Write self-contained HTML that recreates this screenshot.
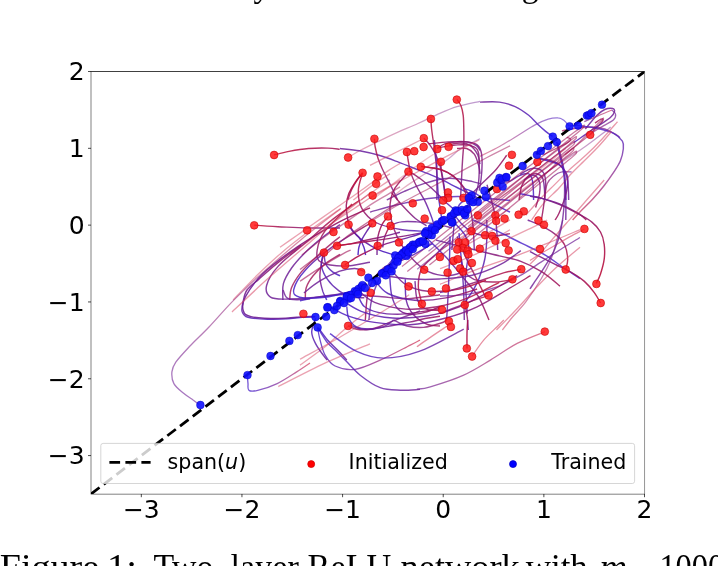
<!DOCTYPE html>
<html><head><meta charset="utf-8"><title>Figure 1</title>
<style>html,body{margin:0;padding:0;background:#fff;overflow:hidden;width:718px;height:566px}svg{display:block}</style>
</head><body>
<svg width="718" height="566" viewBox="0 0 718 566">
<rect width="718" height="566" fill="#fff"/>
<g font-family="Liberation Serif, DejaVu Serif, serif" font-size="33.5" fill="#000"><text x="253.5" y="-3">y</text><text x="521.8" y="-3">g</text></g>
<defs><clipPath id="ax"><rect x="91.00" y="71.50" width="553.50" height="422.50"/></clipPath></defs>
<g clip-path="url(#ax)">
<defs><linearGradient id="g1" gradientUnits="userSpaceOnUse" x1="348.2" y1="157.7" x2="480.0" y2="101.3"><stop offset="0" stop-color="rgb(215,70,100)"/><stop offset="1" stop-color="rgb(110,30,150)"/></linearGradient><linearGradient id="g2" gradientUnits="userSpaceOnUse" x1="340.0" y1="148.5" x2="476.5" y2="196.8"><stop offset="0" stop-color="rgb(110,30,150)"/><stop offset="1" stop-color="rgb(70,30,200)"/></linearGradient><linearGradient id="g3" gradientUnits="userSpaceOnUse" x1="374.5" y1="138.7" x2="397.5" y2="200.0"><stop offset="0" stop-color="rgb(190,15,55)"/><stop offset="1" stop-color="rgb(110,30,150)"/></linearGradient><linearGradient id="g4" gradientUnits="userSpaceOnUse" x1="457.0" y1="99.4" x2="460.5" y2="200.0"><stop offset="0" stop-color="rgb(190,15,55)"/><stop offset="1" stop-color="rgb(110,30,150)"/></linearGradient><linearGradient id="g5" gradientUnits="userSpaceOnUse" x1="430.9" y1="118.9" x2="436.9" y2="200.0"><stop offset="0" stop-color="rgb(190,15,55)"/><stop offset="1" stop-color="rgb(110,30,150)"/></linearGradient><linearGradient id="g6" gradientUnits="userSpaceOnUse" x1="423.8" y1="138.2" x2="445.3" y2="200.0"><stop offset="0" stop-color="rgb(160,15,85)"/><stop offset="1" stop-color="rgb(70,30,200)"/></linearGradient><linearGradient id="g7" gradientUnits="userSpaceOnUse" x1="436.9" y1="148.5" x2="480.0" y2="150.4"><stop offset="0" stop-color="rgb(160,15,85)"/><stop offset="1" stop-color="rgb(110,30,150)"/></linearGradient><linearGradient id="g8" gradientUnits="userSpaceOnUse" x1="449.2" y1="144.6" x2="480.0" y2="164.1"><stop offset="0" stop-color="rgb(160,15,85)"/><stop offset="1" stop-color="rgb(110,30,150)"/></linearGradient><linearGradient id="g9" gradientUnits="userSpaceOnUse" x1="457.0" y1="148.5" x2="480.0" y2="173.8"><stop offset="0" stop-color="rgb(160,15,85)"/><stop offset="1" stop-color="rgb(110,30,150)"/></linearGradient><linearGradient id="g10" gradientUnits="userSpaceOnUse" x1="420.9" y1="166.6" x2="470.6" y2="200.0"><stop offset="0" stop-color="rgb(190,15,55)"/><stop offset="1" stop-color="rgb(110,30,150)"/></linearGradient><linearGradient id="g11" gradientUnits="userSpaceOnUse" x1="362.8" y1="172.9" x2="347.8" y2="200.0"><stop offset="0" stop-color="rgb(190,15,55)"/><stop offset="1" stop-color="rgb(160,15,85)"/></linearGradient><linearGradient id="g12" gradientUnits="userSpaceOnUse" x1="388.7" y1="200.0" x2="480.0" y2="138.7"><stop offset="0" stop-color="rgb(215,70,100)"/><stop offset="1" stop-color="rgb(110,30,150)"/></linearGradient><linearGradient id="g13" gradientUnits="userSpaceOnUse" x1="440.8" y1="161.7" x2="446.3" y2="200.0"><stop offset="0" stop-color="rgb(160,15,85)"/><stop offset="1" stop-color="rgb(110,30,150)"/></linearGradient><linearGradient id="g14" gradientUnits="userSpaceOnUse" x1="480.0" y1="102.1" x2="552.5" y2="136.4"><stop offset="0" stop-color="rgb(110,30,150)"/><stop offset="1" stop-color="rgb(70,30,200)"/></linearGradient><linearGradient id="g15" gradientUnits="userSpaceOnUse" x1="480.0" y1="156.3" x2="569.1" y2="126.1"><stop offset="0" stop-color="rgb(215,70,100)"/><stop offset="1" stop-color="rgb(70,30,200)"/></linearGradient><linearGradient id="g16" gradientUnits="userSpaceOnUse" x1="509.2" y1="200.0" x2="610.6" y2="127.0"><stop offset="0" stop-color="rgb(215,70,100)"/><stop offset="1" stop-color="rgb(110,30,150)"/></linearGradient><linearGradient id="g17" gradientUnits="userSpaceOnUse" x1="590.2" y1="134.8" x2="595.0" y2="123.1"><stop offset="0" stop-color="rgb(190,15,55)"/><stop offset="1" stop-color="rgb(160,15,85)"/></linearGradient><linearGradient id="g18" gradientUnits="userSpaceOnUse" x1="585.3" y1="129.0" x2="573.6" y2="142.6"><stop offset="0" stop-color="rgb(110,30,150)"/><stop offset="1" stop-color="rgb(70,30,200)"/></linearGradient><linearGradient id="g19" gradientUnits="userSpaceOnUse" x1="561.9" y1="130.9" x2="620.0" y2="137.8"><stop offset="0" stop-color="rgb(160,15,85)"/><stop offset="1" stop-color="rgb(110,30,150)"/></linearGradient><linearGradient id="g20" gradientUnits="userSpaceOnUse" x1="501.4" y1="181.6" x2="533.6" y2="200.0"><stop offset="0" stop-color="rgb(110,30,150)"/><stop offset="1" stop-color="rgb(70,30,200)"/></linearGradient><linearGradient id="g21" gradientUnits="userSpaceOnUse" x1="519.0" y1="200.0" x2="544.7" y2="200.0"><stop offset="0" stop-color="rgb(160,15,85)"/><stop offset="1" stop-color="rgb(110,30,150)"/></linearGradient><linearGradient id="g22" gradientUnits="userSpaceOnUse" x1="557.6" y1="142.6" x2="565.8" y2="200.0"><stop offset="0" stop-color="rgb(110,30,150)"/><stop offset="1" stop-color="rgb(70,30,200)"/></linearGradient><linearGradient id="g23" gradientUnits="userSpaceOnUse" x1="544.3" y1="200.0" x2="571.6" y2="171.9"><stop offset="0" stop-color="rgb(160,15,85)"/><stop offset="1" stop-color="rgb(110,30,150)"/></linearGradient><linearGradient id="g24" gradientUnits="userSpaceOnUse" x1="254.2" y1="225.1" x2="340.0" y2="228.0"><stop offset="0" stop-color="rgb(190,15,55)"/><stop offset="1" stop-color="rgb(110,30,150)"/></linearGradient><linearGradient id="g25" gradientUnits="userSpaceOnUse" x1="324.0" y1="252.8" x2="326.7" y2="300.0"><stop offset="0" stop-color="rgb(190,15,55)"/><stop offset="1" stop-color="rgb(70,30,200)"/></linearGradient><linearGradient id="g26" gradientUnits="userSpaceOnUse" x1="324.0" y1="252.8" x2="340.0" y2="275.8"><stop offset="0" stop-color="rgb(110,30,150)"/><stop offset="1" stop-color="rgb(70,30,200)"/></linearGradient><linearGradient id="g27" gradientUnits="userSpaceOnUse" x1="341.0" y1="208.5" x2="199.2" y2="404.6"><stop offset="0" stop-color="rgb(215,70,100)"/><stop offset="1" stop-color="rgb(110,30,150)"/></linearGradient><linearGradient id="g28" gradientUnits="userSpaceOnUse" x1="301.2" y1="245.2" x2="315.3" y2="316.9"><stop offset="0" stop-color="rgb(160,15,85)"/><stop offset="1" stop-color="rgb(70,30,200)"/></linearGradient><linearGradient id="g29" gradientUnits="userSpaceOnUse" x1="247.4" y1="375.0" x2="310.0" y2="363.1"><stop offset="0" stop-color="rgb(70,30,200)"/><stop offset="1" stop-color="rgb(215,70,100)"/></linearGradient><linearGradient id="g30" gradientUnits="userSpaceOnUse" x1="317.5" y1="327.5" x2="420.0" y2="340.1"><stop offset="0" stop-color="rgb(70,30,200)"/><stop offset="1" stop-color="rgb(215,70,100)"/></linearGradient><linearGradient id="g31" gradientUnits="userSpaceOnUse" x1="317.5" y1="327.5" x2="420.0" y2="389.4"><stop offset="0" stop-color="rgb(70,30,200)"/><stop offset="1" stop-color="rgb(110,30,150)"/></linearGradient><linearGradient id="g32" gradientUnits="userSpaceOnUse" x1="348.1" y1="325.9" x2="420.0" y2="310.8"><stop offset="0" stop-color="rgb(160,15,85)"/><stop offset="1" stop-color="rgb(110,30,150)"/></linearGradient><linearGradient id="g33" gradientUnits="userSpaceOnUse" x1="346.8" y1="306.5" x2="440.0" y2="316.3"><stop offset="0" stop-color="rgb(70,30,200)"/><stop offset="1" stop-color="rgb(160,15,85)"/></linearGradient><linearGradient id="g34" gradientUnits="userSpaceOnUse" x1="358.5" y1="296.8" x2="440.0" y2="308.5"><stop offset="0" stop-color="rgb(70,30,200)"/><stop offset="1" stop-color="rgb(160,15,85)"/></linearGradient><linearGradient id="g35" gradientUnits="userSpaceOnUse" x1="389.7" y1="275.3" x2="440.0" y2="306.5"><stop offset="0" stop-color="rgb(70,30,200)"/><stop offset="1" stop-color="rgb(160,15,85)"/></linearGradient><linearGradient id="g36" gradientUnits="userSpaceOnUse" x1="405.3" y1="279.2" x2="440.0" y2="326.0"><stop offset="0" stop-color="rgb(70,30,200)"/><stop offset="1" stop-color="rgb(160,15,85)"/></linearGradient><linearGradient id="g37" gradientUnits="userSpaceOnUse" x1="415.0" y1="281.2" x2="440.0" y2="309.5"><stop offset="0" stop-color="rgb(110,30,150)"/><stop offset="1" stop-color="rgb(160,15,85)"/></linearGradient><linearGradient id="g38" gradientUnits="userSpaceOnUse" x1="323.4" y1="252.9" x2="364.3" y2="297.8"><stop offset="0" stop-color="rgb(70,30,200)"/><stop offset="1" stop-color="rgb(110,30,150)"/></linearGradient><linearGradient id="g39" gradientUnits="userSpaceOnUse" x1="315.6" y1="318.2" x2="327.3" y2="360.0"><stop offset="0" stop-color="rgb(70,30,200)"/><stop offset="1" stop-color="rgb(110,30,150)"/></linearGradient><linearGradient id="g40" gradientUnits="userSpaceOnUse" x1="318.5" y1="328.0" x2="346.8" y2="360.0"><stop offset="0" stop-color="rgb(70,30,200)"/><stop offset="1" stop-color="rgb(110,30,150)"/></linearGradient><linearGradient id="g41" gradientUnits="userSpaceOnUse" x1="300.0" y1="300.7" x2="440.0" y2="294.8"><stop offset="0" stop-color="rgb(70,30,200)"/><stop offset="1" stop-color="rgb(160,15,85)"/></linearGradient><linearGradient id="g42" gradientUnits="userSpaceOnUse" x1="391.4" y1="192.6" x2="426.5" y2="225.8"><stop offset="0" stop-color="rgb(160,15,85)"/><stop offset="1" stop-color="rgb(110,30,150)"/></linearGradient><linearGradient id="g43" gradientUnits="userSpaceOnUse" x1="407.0" y1="151.7" x2="434.3" y2="225.8"><stop offset="0" stop-color="rgb(190,15,55)"/><stop offset="1" stop-color="rgb(70,30,200)"/></linearGradient><linearGradient id="g44" gradientUnits="userSpaceOnUse" x1="428.5" y1="143.9" x2="479.2" y2="190.7"><stop offset="0" stop-color="rgb(160,15,85)"/><stop offset="1" stop-color="rgb(110,30,150)"/></linearGradient><linearGradient id="g45" gradientUnits="userSpaceOnUse" x1="438.2" y1="147.8" x2="475.3" y2="194.6"><stop offset="0" stop-color="rgb(160,15,85)"/><stop offset="1" stop-color="rgb(110,30,150)"/></linearGradient><linearGradient id="g46" gradientUnits="userSpaceOnUse" x1="434.3" y1="140.0" x2="442.1" y2="221.9"><stop offset="0" stop-color="rgb(110,30,150)"/><stop offset="1" stop-color="rgb(70,30,200)"/></linearGradient><linearGradient id="g47" gradientUnits="userSpaceOnUse" x1="370.0" y1="212.1" x2="510.0" y2="200.4"><stop offset="0" stop-color="rgb(110,30,150)"/><stop offset="1" stop-color="rgb(70,30,200)"/></linearGradient><linearGradient id="g48" gradientUnits="userSpaceOnUse" x1="451.9" y1="250.0" x2="467.5" y2="198.5"><stop offset="0" stop-color="rgb(110,30,150)"/><stop offset="1" stop-color="rgb(70,30,200)"/></linearGradient><linearGradient id="g49" gradientUnits="userSpaceOnUse" x1="421.1" y1="166.3" x2="474.3" y2="250.0"><stop offset="0" stop-color="rgb(190,15,55)"/><stop offset="1" stop-color="rgb(110,30,150)"/></linearGradient><linearGradient id="g50" gradientUnits="userSpaceOnUse" x1="409.0" y1="171.2" x2="459.7" y2="214.1"><stop offset="0" stop-color="rgb(160,15,85)"/><stop offset="1" stop-color="rgb(70,30,200)"/></linearGradient><linearGradient id="g51" gradientUnits="userSpaceOnUse" x1="494.8" y1="179.0" x2="510.0" y2="180.9"><stop offset="0" stop-color="rgb(70,30,200)"/><stop offset="1" stop-color="rgb(110,30,150)"/></linearGradient><linearGradient id="g52" gradientUnits="userSpaceOnUse" x1="453.8" y1="214.1" x2="510.0" y2="233.6"><stop offset="0" stop-color="rgb(70,30,200)"/><stop offset="1" stop-color="rgb(160,15,85)"/></linearGradient><linearGradient id="g53" gradientUnits="userSpaceOnUse" x1="569.7" y1="126.0" x2="572.6" y2="220.0"><stop offset="0" stop-color="rgb(70,30,200)"/><stop offset="1" stop-color="rgb(215,70,100)"/></linearGradient><linearGradient id="g54" gradientUnits="userSpaceOnUse" x1="584.3" y1="121.7" x2="611.6" y2="110.0"><stop offset="0" stop-color="rgb(110,30,150)"/><stop offset="1" stop-color="rgb(215,70,100)"/></linearGradient><linearGradient id="g55" gradientUnits="userSpaceOnUse" x1="611.6" y1="110.0" x2="564.8" y2="154.8"><stop offset="0" stop-color="rgb(110,30,150)"/><stop offset="1" stop-color="rgb(215,70,100)"/></linearGradient><linearGradient id="g56" gradientUnits="userSpaceOnUse" x1="556.7" y1="142.0" x2="565.8" y2="220.0"><stop offset="0" stop-color="rgb(70,30,200)"/><stop offset="1" stop-color="rgb(110,30,150)"/></linearGradient><linearGradient id="g57" gradientUnits="userSpaceOnUse" x1="520.0" y1="174.3" x2="541.4" y2="220.0"><stop offset="0" stop-color="rgb(110,30,150)"/><stop offset="1" stop-color="rgb(160,15,85)"/></linearGradient><linearGradient id="g58" gradientUnits="userSpaceOnUse" x1="523.9" y1="180.2" x2="535.6" y2="207.5"><stop offset="0" stop-color="rgb(110,30,150)"/><stop offset="1" stop-color="rgb(160,15,85)"/></linearGradient><linearGradient id="g59" gradientUnits="userSpaceOnUse" x1="539.5" y1="158.7" x2="555.1" y2="220.0"><stop offset="0" stop-color="rgb(70,30,200)"/><stop offset="1" stop-color="rgb(160,15,85)"/></linearGradient><linearGradient id="g60" gradientUnits="userSpaceOnUse" x1="520.0" y1="193.8" x2="586.3" y2="220.0"><stop offset="0" stop-color="rgb(70,30,200)"/><stop offset="1" stop-color="rgb(160,15,85)"/></linearGradient><linearGradient id="g61" gradientUnits="userSpaceOnUse" x1="565.8" y1="269.5" x2="527.7" y2="220.0"><stop offset="0" stop-color="rgb(190,15,55)"/><stop offset="1" stop-color="rgb(110,30,150)"/></linearGradient><linearGradient id="g62" gradientUnits="userSpaceOnUse" x1="562.8" y1="220.0" x2="502.4" y2="330.0"><stop offset="0" stop-color="rgb(110,30,150)"/><stop offset="1" stop-color="rgb(215,70,100)"/></linearGradient><linearGradient id="g63" gradientUnits="userSpaceOnUse" x1="520.9" y1="269.3" x2="440.0" y2="292.5"><stop offset="0" stop-color="rgb(190,15,55)"/><stop offset="1" stop-color="rgb(110,30,150)"/></linearGradient><linearGradient id="g64" gradientUnits="userSpaceOnUse" x1="512.1" y1="279.5" x2="461.4" y2="259.0"><stop offset="0" stop-color="rgb(190,15,55)"/><stop offset="1" stop-color="rgb(110,30,150)"/></linearGradient><linearGradient id="g65" gradientUnits="userSpaceOnUse" x1="488.7" y1="295.6" x2="440.0" y2="313.6"><stop offset="0" stop-color="rgb(190,15,55)"/><stop offset="1" stop-color="rgb(110,30,150)"/></linearGradient><linearGradient id="g66" gradientUnits="userSpaceOnUse" x1="465.0" y1="304.8" x2="468.3" y2="330.0"><stop offset="0" stop-color="rgb(190,15,55)"/><stop offset="1" stop-color="rgb(110,30,150)"/></linearGradient><linearGradient id="g67" gradientUnits="userSpaceOnUse" x1="486.8" y1="220.0" x2="465.3" y2="301.9"><stop offset="0" stop-color="rgb(110,30,150)"/><stop offset="1" stop-color="rgb(70,30,200)"/></linearGradient><linearGradient id="g68" gradientUnits="userSpaceOnUse" x1="455.6" y1="223.9" x2="467.3" y2="313.6"><stop offset="0" stop-color="rgb(70,30,200)"/><stop offset="1" stop-color="rgb(110,30,150)"/></linearGradient><linearGradient id="g69" gradientUnits="userSpaceOnUse" x1="274.0" y1="154.9" x2="339.7" y2="149.3"><stop offset="0" stop-color="rgb(190,15,55)"/><stop offset="1" stop-color="rgb(160,15,85)"/></linearGradient><linearGradient id="g70" gradientUnits="userSpaceOnUse" x1="416.9" y1="389.2" x2="544.9" y2="331.7"><stop offset="0" stop-color="rgb(110,30,150)"/><stop offset="1" stop-color="rgb(215,70,100)"/></linearGradient><linearGradient id="g71" gradientUnits="userSpaceOnUse" x1="467.0" y1="348.4" x2="467.7" y2="320.0"><stop offset="0" stop-color="rgb(190,15,55)"/><stop offset="1" stop-color="rgb(160,15,85)"/></linearGradient><linearGradient id="g72" gradientUnits="userSpaceOnUse" x1="393.5" y1="320.0" x2="447.0" y2="320.0"><stop offset="0" stop-color="rgb(110,30,150)"/><stop offset="1" stop-color="rgb(160,15,85)"/></linearGradient><linearGradient id="g73" gradientUnits="userSpaceOnUse" x1="596.3" y1="283.4" x2="530.0" y2="196.1"><stop offset="0" stop-color="rgb(190,15,55)"/><stop offset="1" stop-color="rgb(110,30,150)"/></linearGradient><linearGradient id="g74" gradientUnits="userSpaceOnUse" x1="600.5" y1="303.0" x2="530.0" y2="251.7"><stop offset="0" stop-color="rgb(190,15,55)"/><stop offset="1" stop-color="rgb(110,30,150)"/></linearGradient><linearGradient id="g75" gradientUnits="userSpaceOnUse" x1="362.6" y1="172.8" x2="394.1" y2="255.0"><stop offset="0" stop-color="rgb(190,15,55)"/><stop offset="1" stop-color="rgb(70,30,200)"/></linearGradient><linearGradient id="g76" gradientUnits="userSpaceOnUse" x1="348.5" y1="224.3" x2="365.6" y2="255.0"><stop offset="0" stop-color="rgb(110,30,150)"/><stop offset="1" stop-color="rgb(70,30,200)"/></linearGradient><linearGradient id="g77" gradientUnits="userSpaceOnUse" x1="372.3" y1="223.4" x2="358.0" y2="255.0"><stop offset="0" stop-color="rgb(110,30,150)"/><stop offset="1" stop-color="rgb(70,30,200)"/></linearGradient><linearGradient id="g78" gradientUnits="userSpaceOnUse" x1="387.9" y1="216.4" x2="377.0" y2="255.0"><stop offset="0" stop-color="rgb(190,15,55)"/><stop offset="1" stop-color="rgb(110,30,150)"/></linearGradient><linearGradient id="g79" gradientUnits="userSpaceOnUse" x1="390.6" y1="225.8" x2="382.7" y2="247.3"><stop offset="0" stop-color="rgb(190,15,55)"/><stop offset="1" stop-color="rgb(110,30,150)"/></linearGradient><linearGradient id="g80" gradientUnits="userSpaceOnUse" x1="337.1" y1="245.8" x2="400.0" y2="232.2"><stop offset="0" stop-color="rgb(190,15,55)"/><stop offset="1" stop-color="rgb(110,30,150)"/></linearGradient><linearGradient id="g81" gradientUnits="userSpaceOnUse" x1="428.5" y1="251.2" x2="468.0" y2="226.8"><stop offset="0" stop-color="rgb(110,30,150)"/><stop offset="1" stop-color="rgb(160,15,85)"/></linearGradient><linearGradient id="g82" gradientUnits="userSpaceOnUse" x1="417.2" y1="269.2" x2="465.5" y2="238.7"><stop offset="0" stop-color="rgb(110,30,150)"/><stop offset="1" stop-color="rgb(160,15,85)"/></linearGradient><linearGradient id="g83" gradientUnits="userSpaceOnUse" x1="370.0" y1="207.8" x2="315.2" y2="316.6"><stop offset="0" stop-color="rgb(160,15,85)"/><stop offset="1" stop-color="rgb(110,30,150)"/></linearGradient><linearGradient id="g84" gradientUnits="userSpaceOnUse" x1="359.9" y1="200.0" x2="359.9" y2="289.4"><stop offset="0" stop-color="rgb(190,15,55)"/><stop offset="1" stop-color="rgb(110,30,150)"/></linearGradient><linearGradient id="g85" gradientUnits="userSpaceOnUse" x1="370.0" y1="223.3" x2="352.1" y2="291.3"><stop offset="0" stop-color="rgb(160,15,85)"/><stop offset="1" stop-color="rgb(70,30,200)"/></linearGradient><linearGradient id="g86" gradientUnits="userSpaceOnUse" x1="352.1" y1="203.9" x2="370.0" y2="262.2"><stop offset="0" stop-color="rgb(190,15,55)"/><stop offset="1" stop-color="rgb(110,30,150)"/></linearGradient><linearGradient id="g87" gradientUnits="userSpaceOnUse" x1="337.1" y1="245.4" x2="428.9" y2="231.3"><stop offset="0" stop-color="rgb(190,15,55)"/><stop offset="1" stop-color="rgb(110,30,150)"/></linearGradient><linearGradient id="g88" gradientUnits="userSpaceOnUse" x1="344.8" y1="264.9" x2="432.5" y2="229.5"><stop offset="0" stop-color="rgb(190,15,55)"/><stop offset="1" stop-color="rgb(70,30,200)"/></linearGradient><linearGradient id="g89" gradientUnits="userSpaceOnUse" x1="365.3" y1="320.0" x2="432.5" y2="243.7"><stop offset="0" stop-color="rgb(160,15,85)"/><stop offset="1" stop-color="rgb(70,30,200)"/></linearGradient><linearGradient id="g90" gradientUnits="userSpaceOnUse" x1="446.6" y1="320.0" x2="450.1" y2="236.6"><stop offset="0" stop-color="rgb(110,30,150)"/><stop offset="1" stop-color="rgb(70,30,200)"/></linearGradient><linearGradient id="g91" gradientUnits="userSpaceOnUse" x1="464.3" y1="320.0" x2="459.0" y2="233.1"><stop offset="0" stop-color="rgb(110,30,150)"/><stop offset="1" stop-color="rgb(70,30,200)"/></linearGradient><linearGradient id="g92" gradientUnits="userSpaceOnUse" x1="421.9" y1="303.7" x2="450.1" y2="240.1"><stop offset="0" stop-color="rgb(190,15,55)"/><stop offset="1" stop-color="rgb(110,30,150)"/></linearGradient><linearGradient id="g93" gradientUnits="userSpaceOnUse" x1="362.5" y1="173.0" x2="425.4" y2="231.3"><stop offset="0" stop-color="rgb(190,15,55)"/><stop offset="1" stop-color="rgb(70,30,200)"/></linearGradient><linearGradient id="g94" gradientUnits="userSpaceOnUse" x1="407.7" y1="173.0" x2="471.3" y2="268.4"><stop offset="0" stop-color="rgb(160,15,85)"/><stop offset="1" stop-color="rgb(110,30,150)"/></linearGradient><linearGradient id="g95" gradientUnits="userSpaceOnUse" x1="506.7" y1="155.3" x2="471.3" y2="194.2"><stop offset="0" stop-color="rgb(160,15,85)"/><stop offset="1" stop-color="rgb(110,30,150)"/></linearGradient><linearGradient id="g96" gradientUnits="userSpaceOnUse" x1="485.5" y1="296.7" x2="457.2" y2="236.6"><stop offset="0" stop-color="rgb(190,15,55)"/><stop offset="1" stop-color="rgb(110,30,150)"/></linearGradient><linearGradient id="g97" gradientUnits="userSpaceOnUse" x1="436.0" y1="240.1" x2="560.0" y2="286.1"><stop offset="0" stop-color="rgb(110,30,150)"/><stop offset="1" stop-color="rgb(160,15,85)"/></linearGradient><linearGradient id="g98" gradientUnits="userSpaceOnUse" x1="425.4" y1="236.6" x2="489.0" y2="320.0"><stop offset="0" stop-color="rgb(70,30,200)"/><stop offset="1" stop-color="rgb(160,15,85)"/></linearGradient><linearGradient id="g99" gradientUnits="userSpaceOnUse" x1="400.7" y1="250.7" x2="368.9" y2="320.0"><stop offset="0" stop-color="rgb(70,30,200)"/><stop offset="1" stop-color="rgb(110,30,150)"/></linearGradient><linearGradient id="g100" gradientUnits="userSpaceOnUse" x1="330.0" y1="306.8" x2="530.5" y2="275.7"><stop offset="0" stop-color="rgb(70,30,200)"/><stop offset="1" stop-color="rgb(160,15,85)"/></linearGradient><linearGradient id="g101" gradientUnits="userSpaceOnUse" x1="338.9" y1="297.9" x2="517.2" y2="275.7"><stop offset="0" stop-color="rgb(70,30,200)"/><stop offset="1" stop-color="rgb(160,15,85)"/></linearGradient><linearGradient id="g102" gradientUnits="userSpaceOnUse" x1="356.7" y1="289.0" x2="499.3" y2="282.3"><stop offset="0" stop-color="rgb(110,30,150)"/><stop offset="1" stop-color="rgb(190,15,55)"/></linearGradient><linearGradient id="g103" gradientUnits="userSpaceOnUse" x1="374.6" y1="280.1" x2="477.1" y2="289.0"><stop offset="0" stop-color="rgb(70,30,200)"/><stop offset="1" stop-color="rgb(160,15,85)"/></linearGradient><linearGradient id="g104" gradientUnits="userSpaceOnUse" x1="392.4" y1="271.2" x2="486.0" y2="280.1"><stop offset="0" stop-color="rgb(110,30,150)"/><stop offset="1" stop-color="rgb(190,15,55)"/></linearGradient><linearGradient id="g105" gradientUnits="userSpaceOnUse" x1="330.0" y1="333.6" x2="463.7" y2="329.1"><stop offset="0" stop-color="rgb(70,30,200)"/><stop offset="1" stop-color="rgb(110,30,150)"/></linearGradient></defs>
<path d="M348.2 157.7 C350.1 156.5 354.4 153.6 359.5 150.8 C364.6 148.1 372.5 144.2 379.0 141.1 C385.5 137.9 392.0 134.8 398.5 131.9 C405.0 129.0 411.5 126.5 418.0 123.5 C424.5 120.6 431.0 117.2 437.5 114.4 C444.0 111.5 449.9 108.7 457.0 106.6 C464.1 104.4 476.2 102.2 480.0 101.3" fill="none" stroke="url(#g1)" stroke-opacity="0.45" stroke-width="1.30"/>
<path d="M340.0 148.5 C343.2 148.9 353.0 149.7 359.5 150.8 C366.0 152.0 372.5 153.4 379.0 155.3 C385.5 157.2 392.0 159.7 398.5 162.1 C405.0 164.6 411.5 167.3 418.0 169.9 C424.5 172.5 431.0 174.8 437.5 177.7 C444.0 180.7 451.8 184.9 457.0 187.5 C462.2 190.1 465.4 191.8 468.7 193.3 C471.9 194.9 475.2 196.3 476.5 196.8" fill="none" stroke="url(#g2)" stroke-opacity="0.85" stroke-width="1.43"/>
<path d="M374.5 138.7 C374.6 140.0 374.5 143.3 375.1 146.5 C375.7 149.8 376.9 154.7 378.0 158.2 C379.2 161.8 380.3 164.4 381.9 168.0 C383.5 171.6 385.8 175.8 387.8 179.7 C389.7 183.6 392.0 188.0 393.6 191.4 C395.2 194.8 396.9 198.5 397.5 200.0" fill="none" stroke="url(#g3)" stroke-opacity="0.85" stroke-width="1.43"/>
<path d="M457.0 99.4 C457.6 100.4 459.8 102.9 460.9 105.6 C461.9 108.3 462.7 111.4 463.2 115.3 C463.7 119.2 463.7 124.4 463.8 129.0 C463.9 133.5 464.0 138.1 463.8 142.6 C463.6 147.2 463.2 151.4 462.8 156.3 C462.5 161.2 462.2 164.6 461.9 171.9 C461.5 179.2 460.7 195.3 460.5 200.0" fill="none" stroke="url(#g4)" stroke-opacity="0.85" stroke-width="1.43"/>
<path d="M430.9 118.9 C431.0 120.5 431.2 125.4 431.6 129.0 C432.0 132.6 432.6 136.5 433.2 140.7 C433.8 144.9 434.6 149.8 435.1 154.3 C435.7 158.9 436.2 163.1 436.5 168.0 C436.8 172.9 436.8 178.3 436.9 183.6 C437.0 188.9 436.9 197.2 436.9 200.0" fill="none" stroke="url(#g5)" stroke-opacity="0.85" stroke-width="1.43"/>
<path d="M423.8 138.2 C424.8 139.2 427.7 141.9 429.7 144.6 C431.6 147.3 433.9 151.1 435.5 154.3 C437.2 157.6 438.3 160.5 439.4 164.1 C440.6 167.7 441.5 171.9 442.4 175.8 C443.2 179.7 443.8 183.5 444.3 187.5 C444.8 191.5 445.1 197.9 445.3 200.0" fill="none" stroke="url(#g6)" stroke-opacity="0.85" stroke-width="1.43"/>
<path d="M436.9 148.5 C438.3 147.7 441.9 144.8 445.3 143.6 C448.6 142.5 453.1 141.9 457.0 141.7 C460.9 141.4 465.4 141.6 468.7 142.3 C471.9 142.9 474.6 144.2 476.5 145.6 C478.4 146.9 479.4 149.6 480.0 150.4" fill="none" stroke="url(#g7)" stroke-opacity="0.85" stroke-width="1.43"/>
<path d="M449.2 144.6 C451.1 144.3 457.3 142.9 460.9 143.0 C464.5 143.2 467.9 143.7 470.6 145.6 C473.4 147.5 475.9 151.3 477.5 154.3 C479.0 157.4 479.6 162.5 480.0 164.1" fill="none" stroke="url(#g8)" stroke-opacity="0.85" stroke-width="1.43"/>
<path d="M457.0 148.5 C458.6 148.5 463.8 147.5 466.7 148.5 C469.7 149.5 472.5 151.4 474.5 154.3 C476.5 157.3 477.9 162.8 478.8 166.0 C479.7 169.3 479.8 172.5 480.0 173.8" fill="none" stroke="url(#g9)" stroke-opacity="0.85" stroke-width="1.43"/>
<path d="M420.9 166.6 C422.4 166.8 426.3 167.0 429.7 167.6 C433.1 168.2 437.5 168.6 441.4 169.9 C445.3 171.3 449.8 173.5 453.1 175.8 C456.3 178.1 458.6 181.0 460.9 183.6 C463.2 186.2 465.1 188.7 466.7 191.4 C468.4 194.1 470.0 198.5 470.6 200.0" fill="none" stroke="url(#g10)" stroke-opacity="0.85" stroke-width="1.43"/>
<path d="M362.8 172.9 C361.9 174.0 359.4 176.9 357.5 179.7 C355.7 182.4 353.3 186.1 351.7 189.4 C350.1 192.8 348.4 198.2 347.8 200.0" fill="none" stroke="url(#g11)" stroke-opacity="0.85" stroke-width="1.43"/>
<path d="M372.2 200.0 C375.3 197.6 384.7 190.2 390.7 185.5 C396.7 180.9 403.0 175.8 408.2 171.9 C413.4 168.0 417.7 165.1 421.9 162.1 C426.1 159.2 431.6 155.6 433.6 154.3" fill="none" stroke="rgb(215,70,100)" stroke-opacity="0.35" stroke-width="1.30"/>
<path d="M388.7 200.0 C391.3 197.9 398.8 191.5 404.3 187.5 C409.9 183.5 416.4 179.4 421.9 175.8 C427.4 172.2 432.9 169.0 437.5 166.0 C442.0 163.1 445.3 161.2 449.2 158.2 C453.1 155.3 455.7 151.7 460.9 148.5 C466.0 145.2 476.8 140.4 480.0 138.7" fill="none" stroke="url(#g12)" stroke-opacity="0.40" stroke-width="1.30"/>
<path d="M440.8 161.7 C440.9 163.4 441.0 168.2 441.4 171.9 C441.8 175.5 442.7 179.7 443.3 183.6 C444.0 187.5 444.8 192.6 445.3 195.3 C445.8 198.0 446.1 199.2 446.3 200.0" fill="none" stroke="url(#g13)" stroke-opacity="0.85" stroke-width="1.43"/>
<path d="M386.8 200.0 C389.7 198.5 398.2 194.1 404.3 191.4 C410.5 188.7 417.3 185.7 423.8 183.6 C430.3 181.5 437.8 179.5 443.3 178.7 C448.9 177.9 452.1 178.2 457.0 178.7 C461.9 179.2 468.7 180.8 472.6 181.6 C476.4 182.4 478.8 183.3 480.0 183.6" fill="none" stroke="rgb(110,30,150)" stroke-opacity="0.80" stroke-width="1.43"/>
<path d="M480.0 102.1 C483.2 102.1 493.6 101.3 499.5 102.1 C505.3 102.8 510.2 104.4 515.1 106.6 C520.0 108.8 524.8 112.3 528.7 115.3 C532.6 118.4 535.6 122.3 538.5 125.1 C541.4 127.9 544.0 130.0 546.3 131.9 C548.6 133.8 551.5 135.7 552.5 136.4" fill="none" stroke="url(#g14)" stroke-opacity="0.85" stroke-width="1.43"/>
<path d="M480.0 156.3 C483.2 154.7 493.0 150.1 499.5 146.5 C506.0 143.0 513.1 138.4 519.0 134.8 C524.8 131.3 529.7 127.7 534.6 125.1 C539.5 122.5 544.3 120.4 548.2 119.2 C552.1 118.0 555.4 117.7 558.0 117.9 C560.6 118.0 562.0 118.9 563.8 120.2 C565.7 121.6 568.2 125.1 569.1 126.1" fill="none" stroke="url(#g15)" stroke-opacity="0.60" stroke-width="1.30"/>
<path d="M509.2 200.0 C512.8 197.2 523.9 188.6 530.7 183.6 C537.5 178.6 544.0 174.2 550.2 169.9 C556.4 165.7 561.9 162.1 567.7 158.2 C573.6 154.3 579.8 150.4 585.3 146.5 C590.8 142.6 596.7 138.1 600.9 134.8 C605.1 131.6 609.0 128.3 610.6 127.0" fill="none" stroke="url(#g16)" stroke-opacity="0.45" stroke-width="1.30"/>
<path d="M590.2 134.8 C591.0 133.9 593.4 130.8 595.0 129.0 C596.7 127.2 598.5 125.7 599.9 124.1 C601.3 122.6 603.1 120.4 603.2 119.6 C603.4 118.8 602.2 118.7 600.9 119.2 C599.5 119.8 596.0 122.5 595.0 123.1" fill="none" stroke="url(#g17)" stroke-opacity="0.80" stroke-width="1.43"/>
<path d="M585.3 129.0 C587.2 126.7 593.7 118.6 597.0 115.3 C600.2 112.1 602.2 110.6 604.8 109.5 C607.4 108.4 611.0 108.2 612.6 108.5 C614.2 108.8 614.9 110.0 614.5 111.4 C614.2 112.9 612.9 115.2 610.6 117.3 C608.4 119.4 604.5 121.7 600.9 124.1 C597.3 126.6 593.7 128.8 589.2 131.9 C584.6 135.0 576.2 140.9 573.6 142.6" fill="none" stroke="url(#g18)" stroke-opacity="0.85" stroke-width="1.43"/>
<path d="M561.9 130.9 C564.5 130.5 572.3 128.7 577.5 128.0 C582.7 127.4 588.5 126.9 593.1 127.0 C597.6 127.2 600.9 127.7 604.8 129.0 C608.7 130.3 613.9 133.4 616.5 134.8 C619.0 136.3 619.4 137.3 620.0 137.8" fill="none" stroke="url(#g19)" stroke-opacity="0.70" stroke-width="1.43"/>
<path d="M501.4 181.6 C502.7 181.6 506.3 182.6 509.2 181.6 C512.2 180.7 515.7 177.1 519.0 175.8 C522.2 174.5 526.5 172.9 528.7 173.8 C531.0 174.8 531.8 177.3 532.6 181.6 C533.5 186.0 533.5 196.9 533.6 200.0" fill="none" stroke="url(#g20)" stroke-opacity="0.85" stroke-width="1.43"/>
<path d="M519.0 200.0 C519.5 197.6 520.3 189.6 521.9 185.5 C523.5 181.5 526.3 177.7 528.7 175.8 C531.2 173.8 534.3 173.5 536.5 173.8 C538.8 174.2 541.1 175.5 542.4 177.7 C543.7 180.0 544.0 183.8 544.3 187.5 C544.7 191.2 544.7 197.9 544.7 200.0" fill="none" stroke="url(#g21)" stroke-opacity="0.85" stroke-width="1.43"/>
<path d="M557.6 142.6 C558.0 144.3 559.1 148.8 559.9 152.4 C560.8 156.0 562.0 160.2 562.9 164.1 C563.7 168.0 564.3 171.9 564.8 175.8 C565.3 179.7 565.6 183.5 565.8 187.5 C565.9 191.5 565.8 197.9 565.8 200.0" fill="none" stroke="url(#g22)" stroke-opacity="0.85" stroke-width="1.43"/>
<path d="M538.5 158.2 C540.4 158.6 546.6 159.1 550.2 160.2 C553.8 161.3 557.3 162.8 559.9 165.1 C562.5 167.3 564.4 170.4 565.8 173.8 C567.2 177.2 567.6 181.2 568.1 185.5 C568.6 189.9 568.6 197.6 568.7 200.0" fill="none" stroke="rgb(110,30,150)" stroke-opacity="0.85" stroke-width="1.43"/>
<path d="M544.3 200.0 C544.8 197.2 545.6 187.6 547.3 183.6 C548.9 179.6 551.7 177.7 554.1 175.8 C556.5 173.8 559.0 172.5 561.9 171.9 C564.8 171.2 570.0 171.9 571.6 171.9" fill="none" stroke="url(#g23)" stroke-opacity="0.70" stroke-width="1.30"/>
<path d="M495.6 200.0 C498.8 197.9 508.3 192.2 515.1 187.5 C521.9 182.8 530.0 176.8 536.5 171.9 C543.0 167.0 549.2 162.1 554.1 158.2 C559.0 154.3 563.8 150.1 565.8 148.5" fill="none" stroke="rgb(215,70,100)" stroke-opacity="0.40" stroke-width="1.30"/>
<path d="M254.2 225.1 C258.2 225.4 269.1 226.2 278.0 226.7 C286.8 227.1 296.9 227.8 307.2 228.0 C317.6 228.2 334.5 228.0 340.0 228.0" fill="none" stroke="url(#g24)" stroke-opacity="0.85" stroke-width="1.43"/>
<path d="M233.1 300.0 C237.0 295.9 248.4 283.7 256.5 275.8 C264.7 267.9 273.1 259.9 281.9 252.4 C290.7 244.9 300.1 237.8 309.2 230.9 C318.3 224.1 331.3 215.1 336.5 211.4 C341.6 207.8 339.4 209.5 340.0 209.1" fill="none" stroke="rgb(215,70,100)" stroke-opacity="0.50" stroke-width="1.30"/>
<path d="M282.9 300.0 C283.0 297.2 282.0 288.9 283.4 283.6 C284.9 278.3 288.0 273.2 291.6 268.0 C295.3 262.8 300.4 257.3 305.3 252.4 C310.2 247.5 315.7 243.0 320.9 238.7 C326.1 234.5 333.3 229.4 336.5 227.0 C339.7 224.7 339.4 225.1 340.0 224.7" fill="none" stroke="rgb(110,30,150)" stroke-opacity="0.85" stroke-width="1.43"/>
<path d="M289.7 300.0 C290.0 297.9 289.7 292.2 291.6 287.5 C293.6 282.8 297.2 277.1 301.4 271.9 C305.6 266.7 311.8 261.2 317.0 256.3 C322.2 251.4 328.7 245.9 332.6 242.6 C336.4 239.4 338.8 237.8 340.0 236.8" fill="none" stroke="rgb(160,15,85)" stroke-opacity="0.80" stroke-width="1.43"/>
<path d="M305.3 300.0 C305.4 297.9 305.0 291.5 306.3 287.5 C307.6 283.5 310.0 279.7 313.1 275.8 C316.2 271.9 320.3 267.7 324.8 264.1 C329.3 260.5 337.5 256.0 340.0 254.3" fill="none" stroke="rgb(160,15,85)" stroke-opacity="0.80" stroke-width="1.43"/>
<path d="M324.0 252.8 C323.5 254.7 322.0 259.9 321.3 264.1 C320.6 268.2 319.6 273.2 319.9 277.7 C320.2 282.3 321.7 287.7 322.8 291.4 C324.0 295.1 326.1 298.5 326.7 300.0" fill="none" stroke="url(#g25)" stroke-opacity="0.85" stroke-width="1.43"/>
<path d="M324.0 252.8 C324.3 254.7 324.3 260.9 325.8 264.1 C327.2 267.3 330.2 269.9 332.6 271.9 C335.0 273.8 338.8 275.1 340.0 275.8" fill="none" stroke="url(#g26)" stroke-opacity="0.85" stroke-width="1.43"/>
<path d="M341.0 208.5 C334.3 213.7 314.7 228.5 301.0 239.7 C287.3 250.9 268.4 267.6 258.9 276.0 C249.4 284.3 249.2 285.1 244.1 290.0 C239.0 294.9 234.3 299.4 228.5 305.6 C222.6 311.8 215.5 320.2 209.0 327.0 C202.5 333.9 195.0 340.7 189.5 346.5 C184.0 352.4 178.8 357.9 175.8 362.1 C172.9 366.4 172.3 368.3 171.9 371.9 C171.6 375.5 171.9 380.0 173.9 383.6 C175.8 387.2 180.4 390.6 183.6 393.3 C186.9 396.1 190.8 398.3 193.4 400.2 C196.0 402.0 198.3 403.9 199.2 404.6" fill="none" stroke="url(#g27)" stroke-opacity="0.60" stroke-width="1.30"/>
<path d="M301.2 245.2 C297.4 248.0 285.6 256.5 278.6 262.1 C271.5 267.8 264.2 274.4 258.9 279.1 C253.6 283.7 249.6 286.2 247.0 290.0 C244.4 293.8 243.9 298.1 243.1 301.7 C242.3 305.3 241.3 308.8 242.1 311.4 C243.0 314.0 243.8 316.0 248.0 317.3 C252.2 318.6 261.0 319.0 267.5 319.2 C274.0 319.5 281.1 319.2 287.0 318.9 C292.8 318.5 297.9 317.6 302.6 317.3 C307.3 317.0 313.1 317.0 315.3 316.9" fill="none" stroke="url(#g28)" stroke-opacity="0.85" stroke-width="1.43"/>
<path d="M247.4 375.0 C247.5 376.4 247.7 381.0 248.0 383.6 C248.2 386.2 247.3 389.3 249.0 390.4 C250.6 391.5 253.0 391.5 257.7 390.4 C262.4 389.3 270.7 386.7 277.2 383.6 C283.7 380.5 291.3 375.3 296.7 371.9 C302.2 368.5 307.8 364.6 310.0 363.1" fill="none" stroke="url(#g29)" stroke-opacity="0.75" stroke-width="1.30"/>
<path d="M283.1 290.0 C283.7 291.3 284.7 296.2 287.0 297.8 C289.3 299.4 292.9 299.6 296.7 299.7 C300.6 299.9 307.8 298.9 310.0 298.8" fill="none" stroke="rgb(110,30,150)" stroke-opacity="0.80" stroke-width="1.43"/>
<path d="M317.5 327.5 C318.0 329.6 318.8 335.5 320.1 340.1 C321.3 344.7 322.6 350.8 325.1 355.1 C327.6 359.4 330.1 363.6 335.1 366.0 C340.1 368.4 347.6 370.3 355.2 369.3 C362.7 368.4 371.0 364.2 380.2 360.1 C389.4 356.1 403.7 348.4 410.3 345.1 C416.9 341.8 418.4 340.9 420.0 340.1" fill="none" stroke="url(#g30)" stroke-opacity="0.80" stroke-width="1.30"/>
<path d="M317.5 327.5 C319.1 329.9 323.8 338.0 326.7 341.8 C329.7 345.5 331.8 346.8 335.1 350.1 C338.4 353.5 342.6 357.6 346.8 361.8 C351.0 366.0 354.6 370.9 360.2 375.2 C365.7 379.5 373.5 385.2 380.2 387.7 C386.9 390.2 393.7 389.9 400.3 390.2 C406.9 390.5 416.7 389.5 420.0 389.4" fill="none" stroke="url(#g31)" stroke-opacity="0.80" stroke-width="1.43"/>
<path d="M300.0 365.2 C304.2 362.1 318.1 352.3 325.1 346.8 C332.0 341.2 335.9 336.7 341.8 331.7 C347.6 326.7 355.4 320.3 360.2 316.7 C364.9 313.1 368.5 311.1 370.2 310.0" fill="none" stroke="rgb(215,70,100)" stroke-opacity="0.50" stroke-width="1.30"/>
<path d="M348.1 325.9 C349.6 326.4 353.7 328.6 356.8 329.2 C359.9 329.9 363.5 330.0 366.9 329.7 C370.2 329.4 373.5 328.6 376.9 327.5 C380.2 326.5 383.0 324.9 386.9 323.4 C390.8 321.8 395.8 320.0 400.3 318.4 C404.7 316.7 410.4 314.6 413.7 313.3 C416.9 312.1 418.9 311.3 420.0 310.8" fill="none" stroke="url(#g32)" stroke-opacity="0.80" stroke-width="1.43"/>
<path d="M346.8 306.5 C347.1 308.5 347.1 314.8 348.7 318.2 C350.4 321.7 353.0 325.2 356.5 327.0 C360.1 328.8 364.7 329.1 370.2 329.0 C375.7 328.8 383.2 327.2 389.7 326.0 C396.2 324.9 403.0 323.4 409.2 322.1 C415.4 320.8 421.6 319.2 426.7 318.2 C431.9 317.3 437.8 316.6 440.0 316.3" fill="none" stroke="url(#g33)" stroke-opacity="0.85" stroke-width="1.43"/>
<path d="M358.5 296.8 C359.5 298.4 361.1 303.9 364.3 306.5 C367.6 309.1 372.5 311.1 378.0 312.4 C383.5 313.7 391.0 314.3 397.5 314.3 C404.0 314.3 409.9 313.4 417.0 312.4 C424.1 311.4 436.2 309.1 440.0 308.5" fill="none" stroke="url(#g34)" stroke-opacity="0.85" stroke-width="1.43"/>
<path d="M389.7 275.3 C390.0 278.6 390.3 289.3 391.6 294.8 C392.9 300.4 394.6 305.2 397.5 308.5 C400.4 311.7 404.6 313.7 409.2 314.3 C413.7 315.0 419.6 313.7 424.8 312.4 C429.9 311.1 437.5 307.5 440.0 306.5" fill="none" stroke="url(#g35)" stroke-opacity="0.85" stroke-width="1.43"/>
<path d="M405.3 279.2 C405.4 282.8 405.0 294.8 406.3 300.7 C407.6 306.5 409.7 310.4 413.1 314.3 C416.5 318.2 422.2 322.1 426.7 324.1 C431.2 326.0 437.8 325.7 440.0 326.0" fill="none" stroke="url(#g36)" stroke-opacity="0.85" stroke-width="1.43"/>
<path d="M415.0 281.2 C415.4 284.1 415.4 294.2 417.0 298.7 C418.6 303.3 421.5 306.5 424.8 308.5 C428.0 310.4 433.9 310.3 436.5 310.4 C439.0 310.6 439.4 309.6 440.0 309.5" fill="none" stroke="url(#g37)" stroke-opacity="0.85" stroke-width="1.43"/>
<path d="M323.4 252.9 C323.1 255.0 320.8 261.2 321.4 265.6 C322.1 270.0 324.4 275.0 327.3 279.2 C330.2 283.5 335.1 288.0 339.0 290.9 C342.9 293.9 346.5 295.7 350.7 296.8 C354.9 297.9 362.1 297.6 364.3 297.8" fill="none" stroke="url(#g38)" stroke-opacity="0.85" stroke-width="1.43"/>
<path d="M303.9 292.9 C306.5 290.9 313.6 284.8 319.5 281.2 C325.3 277.6 333.1 273.6 339.0 271.4 C344.8 269.3 350.4 268.5 354.6 268.5 C358.8 268.5 362.7 271.0 364.3 271.4" fill="none" stroke="rgb(110,30,150)" stroke-opacity="0.85" stroke-width="1.43"/>
<path d="M315.6 318.2 C314.9 320.5 311.7 327.7 311.7 331.9 C311.7 336.1 313.6 339.7 315.6 343.6 C317.5 347.5 321.4 352.6 323.4 355.3 C325.3 358.0 326.6 359.2 327.3 360.0" fill="none" stroke="url(#g39)" stroke-opacity="0.85" stroke-width="1.43"/>
<path d="M318.5 328.0 C320.0 329.9 323.9 335.8 327.3 339.7 C330.7 343.6 335.7 348.0 339.0 351.4 C342.2 354.8 345.5 358.5 346.8 360.0" fill="none" stroke="url(#g40)" stroke-opacity="0.85" stroke-width="1.43"/>
<path d="M300.0 300.7 C303.2 300.0 313.0 297.8 319.5 296.8 C326.0 295.8 332.5 295.2 339.0 294.8 C345.5 294.5 351.3 294.5 358.5 294.8 C365.6 295.2 374.1 296.1 381.9 296.8 C389.7 297.4 398.1 298.7 405.3 298.7 C412.4 298.7 419.0 297.4 424.8 296.8 C430.6 296.1 437.5 295.2 440.0 294.8" fill="none" stroke="url(#g41)" stroke-opacity="0.80" stroke-width="1.43"/>
<path d="M300.0 359.2 C306.5 355.6 326.0 345.2 339.0 337.7 C352.0 330.3 366.3 321.5 378.0 314.3 C389.7 307.2 404.0 298.1 409.2 294.8" fill="none" stroke="rgb(215,70,100)" stroke-opacity="0.50" stroke-width="1.30"/>
<path d="M300.0 269.5 C302.6 267.5 311.0 261.0 315.6 257.8 C320.1 254.5 325.3 251.3 327.3 250.0" fill="none" stroke="rgb(160,15,85)" stroke-opacity="0.60" stroke-width="1.30"/>
<path d="M300.0 281.2 C303.9 278.6 316.2 270.1 323.4 265.6 C330.5 261.0 338.3 256.5 342.9 253.9 C347.4 251.3 349.4 250.6 350.7 250.0" fill="none" stroke="rgb(160,15,85)" stroke-opacity="0.60" stroke-width="1.30"/>
<path d="M391.4 192.6 C393.4 194.9 399.2 202.1 403.1 206.3 C407.0 210.5 410.9 214.7 414.8 218.0 C418.7 221.2 424.6 224.5 426.5 225.8" fill="none" stroke="url(#g42)" stroke-opacity="0.85" stroke-width="1.43"/>
<path d="M407.0 151.7 C407.2 153.0 407.4 155.9 408.0 159.5 C408.7 163.1 409.5 168.6 410.9 173.1 C412.4 177.7 414.5 182.2 416.8 186.8 C419.1 191.3 422.3 195.9 424.6 200.4 C426.9 205.0 428.8 209.9 430.4 214.1 C432.1 218.3 433.7 223.8 434.3 225.8" fill="none" stroke="url(#g43)" stroke-opacity="0.85" stroke-width="1.43"/>
<path d="M428.5 143.9 C431.7 143.6 441.5 142.3 448.0 141.9 C454.5 141.6 462.6 141.5 467.5 141.9 C472.4 142.4 475.0 143.2 477.2 144.9 C479.5 146.5 480.3 148.6 481.1 151.7 C481.9 154.8 482.1 158.8 482.1 163.4 C482.1 167.9 481.6 174.4 481.1 179.0 C480.6 183.5 479.5 188.7 479.2 190.7" fill="none" stroke="url(#g44)" stroke-opacity="0.85" stroke-width="1.43"/>
<path d="M438.2 147.8 C441.5 147.3 452.2 145.2 457.7 144.9 C463.3 144.5 468.0 144.7 471.4 145.8 C474.8 147.0 476.9 147.8 478.2 151.7 C479.5 155.6 479.2 163.7 479.2 169.2 C479.2 174.8 478.9 180.6 478.2 184.8 C477.6 189.1 475.8 193.0 475.3 194.6" fill="none" stroke="url(#g45)" stroke-opacity="0.85" stroke-width="1.43"/>
<path d="M434.3 140.0 C434.7 143.2 435.8 153.0 436.3 159.5 C436.8 166.0 436.9 173.1 437.3 179.0 C437.6 184.8 437.8 189.7 438.2 194.6 C438.7 199.5 439.5 203.7 440.2 208.2 C440.8 212.8 441.8 219.6 442.1 221.9" fill="none" stroke="url(#g46)" stroke-opacity="0.85" stroke-width="1.43"/>
<path d="M463.6 188.7 C464.9 189.1 467.5 189.1 471.4 191.1 C475.3 193.0 480.5 196.9 487.0 200.4 C493.4 204.0 506.2 210.2 510.0 212.1" fill="none" stroke="rgb(70,30,200)" stroke-opacity="0.85" stroke-width="1.43"/>
<path d="M370.0 212.1 C374.9 210.8 389.5 206.6 399.2 204.3 C409.0 202.1 418.7 199.8 428.5 198.5 C438.2 197.2 448.0 196.5 457.7 196.5 C467.5 196.5 478.3 197.8 487.0 198.5 C495.7 199.1 506.2 200.1 510.0 200.4" fill="none" stroke="url(#g47)" stroke-opacity="0.80" stroke-width="1.43"/>
<path d="M440.2 250.0 C444.7 247.2 458.4 238.9 467.5 233.6 C476.6 228.3 487.7 222.2 494.8 218.0 C501.9 213.8 507.5 209.9 510.0 208.2" fill="none" stroke="rgb(215,70,100)" stroke-opacity="0.50" stroke-width="1.30"/>
<path d="M457.7 250.0 C462.0 247.6 474.4 240.5 483.1 235.5 C491.8 230.5 505.5 222.5 510.0 219.9" fill="none" stroke="rgb(215,70,100)" stroke-opacity="0.50" stroke-width="1.30"/>
<path d="M475.3 250.0 C478.5 248.0 489.0 241.8 494.8 238.5 C500.6 235.1 507.5 231.1 510.0 229.7" fill="none" stroke="rgb(215,70,100)" stroke-opacity="0.50" stroke-width="1.30"/>
<path d="M370.0 165.3 C373.2 163.7 383.0 158.8 389.5 155.6 C396.0 152.3 403.8 148.4 409.0 145.8 C414.2 143.2 418.7 141.0 420.7 140.0" fill="none" stroke="rgb(215,70,100)" stroke-opacity="0.50" stroke-width="1.30"/>
<path d="M370.0 198.5 C373.9 196.2 385.3 189.4 393.4 184.8 C401.5 180.3 409.6 176.1 418.7 171.2 C427.8 166.3 439.2 160.1 448.0 155.6 C456.8 151.0 466.2 146.5 471.4 143.9 C476.6 141.3 477.9 140.6 479.2 140.0" fill="none" stroke="rgb(215,70,100)" stroke-opacity="0.50" stroke-width="1.30"/>
<path d="M370.0 221.9 C374.9 219.0 389.5 209.9 399.2 204.3 C409.0 198.8 418.7 193.9 428.5 188.7 C438.2 183.5 448.0 178.3 457.7 173.1 C467.5 167.9 478.3 162.1 487.0 157.5 C495.7 153.0 506.2 147.8 510.0 145.8" fill="none" stroke="rgb(160,15,85)" stroke-opacity="0.50" stroke-width="1.30"/>
<path d="M451.9 250.0 C452.2 246.3 453.2 233.7 453.8 227.7 C454.5 221.8 454.8 218.0 455.8 214.1 C456.8 210.2 457.7 206.9 459.7 204.3 C461.6 201.7 466.2 199.5 467.5 198.5" fill="none" stroke="url(#g48)" stroke-opacity="0.85" stroke-width="1.43"/>
<path d="M421.1 166.3 C422.3 166.5 425.3 166.8 428.5 167.3 C431.7 167.8 436.3 167.9 440.2 169.2 C444.1 170.5 448.3 172.5 451.9 175.1 C455.5 177.7 459.0 180.9 461.6 184.8 C464.2 188.7 465.9 193.6 467.5 198.5 C469.1 203.4 470.4 208.9 471.4 214.1 C472.4 219.3 472.8 223.7 473.3 229.7 C473.8 235.7 474.1 246.6 474.3 250.0" fill="none" stroke="url(#g49)" stroke-opacity="0.85" stroke-width="1.43"/>
<path d="M409.0 171.2 C410.9 172.5 416.5 175.7 420.7 179.0 C424.9 182.2 429.8 186.5 434.3 190.7 C438.9 194.9 443.8 200.4 448.0 204.3 C452.2 208.2 457.7 212.5 459.7 214.1" fill="none" stroke="url(#g50)" stroke-opacity="0.85" stroke-width="1.43"/>
<path d="M389.5 225.8 C391.4 225.1 396.6 222.5 401.2 221.9 C405.7 221.2 411.3 221.6 416.8 221.9 C422.3 222.2 428.5 222.9 434.3 223.8 C440.2 224.8 449.0 227.1 451.9 227.7" fill="none" stroke="rgb(110,30,150)" stroke-opacity="0.85" stroke-width="1.43"/>
<path d="M494.8 179.0 C496.1 179.2 500.0 179.6 502.6 180.0 C505.1 180.3 508.8 180.8 510.0 180.9" fill="none" stroke="url(#g51)" stroke-opacity="0.85" stroke-width="1.43"/>
<path d="M487.0 184.8 C487.6 187.1 489.6 193.6 490.9 198.5 C492.2 203.4 493.8 208.9 494.8 214.1 C495.8 219.3 496.2 223.7 496.7 229.7 C497.2 235.7 497.5 246.6 497.7 250.0" fill="none" stroke="rgb(110,30,150)" stroke-opacity="0.85" stroke-width="1.43"/>
<path d="M453.8 214.1 C455.1 215.7 458.7 220.9 461.6 223.8 C464.6 226.8 467.8 229.7 471.4 231.6 C475.0 233.6 478.5 234.9 483.1 235.5 C487.6 236.2 494.2 235.9 498.7 235.5 C503.2 235.2 508.1 233.9 510.0 233.6" fill="none" stroke="url(#g52)" stroke-opacity="0.85" stroke-width="1.43"/>
<path d="M569.7 126.0 C571.2 125.9 573.8 125.2 578.5 125.6 C583.2 126.0 592.1 127.2 598.0 128.5 C603.8 129.8 609.5 131.3 613.6 133.4 C617.6 135.5 620.7 138.6 622.4 141.2 C624.0 143.8 623.7 145.7 623.3 149.0 C623.0 152.2 622.0 156.8 620.4 160.7 C618.8 164.6 616.3 168.2 613.6 172.4 C610.8 176.6 607.4 181.5 603.8 186.0 C600.3 190.6 596.0 195.5 592.1 199.7 C588.2 203.9 583.7 208.0 580.4 211.4 C577.2 214.8 573.9 218.5 572.6 220.0" fill="none" stroke="url(#g53)" stroke-opacity="0.80" stroke-width="1.43"/>
<path d="M584.3 121.7 C586.6 120.7 593.4 117.8 598.0 115.8 C602.5 113.9 609.4 111.0 611.6 110.0" fill="none" stroke="url(#g54)" stroke-opacity="0.70" stroke-width="1.30"/>
<path d="M611.6 110.0 C612.3 110.6 615.2 112.3 615.5 113.9 C615.9 115.5 615.5 117.8 613.6 119.7 C611.6 121.7 607.1 123.6 603.8 125.6 C600.6 127.5 597.3 129.2 594.1 131.4 C590.8 133.7 587.6 136.6 584.3 139.2 C581.1 141.8 577.8 144.4 574.6 147.0 C571.3 149.6 566.5 153.5 564.8 154.8" fill="none" stroke="url(#g55)" stroke-opacity="0.70" stroke-width="1.30"/>
<path d="M611.6 131.4 C609.4 134.0 602.5 142.2 598.0 147.0 C593.4 151.9 588.9 156.1 584.3 160.7 C579.8 165.2 574.9 169.8 570.7 174.3 C566.5 178.9 563.5 183.1 559.0 188.0 C554.4 192.9 547.9 198.3 543.4 203.6 C538.8 208.9 533.6 217.2 531.7 220.0" fill="none" stroke="rgb(215,70,100)" stroke-opacity="0.55" stroke-width="1.30"/>
<path d="M617.5 121.7 C614.9 124.6 607.1 133.7 601.9 139.2 C596.7 144.8 591.5 150.0 586.3 154.8 C581.1 159.7 575.9 163.6 570.7 168.5 C565.5 173.4 560.3 178.9 555.1 184.1 C549.9 189.3 544.4 194.5 539.5 199.7 C534.6 204.9 528.1 212.7 525.8 215.3" fill="none" stroke="rgb(215,70,100)" stroke-opacity="0.55" stroke-width="1.30"/>
<path d="M603.8 117.8 C601.6 120.1 594.7 126.9 590.2 131.4 C585.6 136.0 581.1 140.9 576.5 145.1 C572.0 149.3 567.4 152.6 562.9 156.8 C558.3 161.0 553.8 165.9 549.2 170.4 C544.7 175.0 540.5 179.5 535.6 184.1 C530.7 188.6 522.6 195.5 520.0 197.7" fill="none" stroke="rgb(160,15,85)" stroke-opacity="0.55" stroke-width="1.30"/>
<path d="M556.7 142.0 C557.0 143.8 558.0 148.5 559.0 152.9 C560.0 157.3 561.9 163.3 562.9 168.5 C563.9 173.7 564.4 178.9 564.8 184.1 C565.3 189.3 565.7 193.7 565.8 199.7 C566.0 205.7 565.8 216.6 565.8 220.0" fill="none" stroke="url(#g56)" stroke-opacity="0.85" stroke-width="1.43"/>
<path d="M520.0 174.3 C521.9 173.4 528.1 169.1 531.7 168.5 C535.3 167.8 539.2 168.8 541.4 170.4 C543.7 172.1 544.7 174.7 545.3 178.2 C546.0 181.8 545.7 187.0 545.3 191.9 C545.0 196.8 544.0 202.8 543.4 207.5 C542.7 212.2 541.8 217.9 541.4 220.0" fill="none" stroke="url(#g57)" stroke-opacity="0.85" stroke-width="1.43"/>
<path d="M523.9 180.2 C525.5 179.4 531.0 175.0 533.6 175.3 C536.2 175.6 538.5 179.1 539.5 182.1 C540.5 185.2 540.1 189.6 539.5 193.8 C538.8 198.1 536.2 205.2 535.6 207.5" fill="none" stroke="url(#g58)" stroke-opacity="0.85" stroke-width="1.43"/>
<path d="M539.5 158.7 C542.7 159.7 554.4 162.0 559.0 164.6 C563.5 167.2 565.3 171.1 566.8 174.3 C568.3 177.6 568.1 180.2 567.8 184.1 C567.4 188.0 566.3 192.9 564.8 197.7 C563.4 202.6 560.6 209.6 559.0 213.3 C557.4 217.0 555.7 218.9 555.1 220.0" fill="none" stroke="url(#g59)" stroke-opacity="0.85" stroke-width="1.43"/>
<path d="M520.0 193.8 C523.2 194.5 533.0 196.1 539.5 197.7 C546.0 199.4 552.5 201.0 559.0 203.6 C565.5 206.2 573.9 210.6 578.5 213.3 C583.0 216.1 585.0 218.9 586.3 220.0" fill="none" stroke="url(#g60)" stroke-opacity="0.85" stroke-width="1.43"/>
<path d="M543.4 154.8 C545.3 153.9 551.2 150.9 555.1 149.0 C559.0 147.0 564.2 144.8 566.8 143.1 C569.4 141.5 570.7 140.2 570.7 139.2 C570.7 138.3 567.4 137.6 566.8 137.3" fill="none" stroke="rgb(160,15,85)" stroke-opacity="0.70" stroke-width="1.30"/>
<path d="M473.1 220.0 C477.4 221.9 490.4 227.8 498.5 231.7 C506.6 235.6 514.1 239.5 521.9 243.4 C529.7 247.3 538.1 250.9 545.3 255.1 C552.4 259.3 559.0 264.8 564.8 268.7 C570.6 272.6 577.5 276.9 580.0 278.5" fill="none" stroke="rgb(70,30,200)" stroke-opacity="0.80" stroke-width="1.43"/>
<path d="M565.8 269.5 C566.1 267.8 567.9 263.0 567.7 259.0 C567.5 255.0 566.6 249.2 564.8 245.3 C563.0 241.4 560.2 238.5 557.0 235.6 C553.7 232.7 550.2 230.4 545.3 227.8 C540.4 225.2 530.7 221.3 527.7 220.0" fill="none" stroke="url(#g61)" stroke-opacity="0.85" stroke-width="1.43"/>
<path d="M562.8 220.0 C561.9 223.2 558.9 233.0 557.0 239.5 C555.0 246.0 553.7 252.5 551.1 259.0 C548.5 265.5 545.6 271.3 541.4 278.5 C537.2 285.6 530.7 295.4 525.8 301.9 C520.9 308.4 516.0 312.8 512.1 317.5 C508.2 322.2 504.0 327.9 502.4 330.0" fill="none" stroke="url(#g62)" stroke-opacity="0.60" stroke-width="1.30"/>
<path d="M520.9 269.3 C518.2 269.9 510.0 271.1 504.3 272.6 C498.7 274.2 492.6 276.5 486.8 278.5 C480.9 280.4 475.1 282.4 469.2 284.3 C463.4 286.3 456.6 288.8 451.7 290.2 C446.8 291.6 441.9 292.1 440.0 292.5" fill="none" stroke="url(#g63)" stroke-opacity="0.85" stroke-width="1.43"/>
<path d="M512.1 279.5 C509.5 279.9 502.1 281.8 496.5 282.0 C491.0 282.2 483.5 281.7 479.0 280.8 C474.4 279.9 471.8 278.6 469.2 276.5 C466.6 274.5 464.7 271.7 463.4 268.7 C462.1 265.8 461.8 260.6 461.4 259.0" fill="none" stroke="url(#g64)" stroke-opacity="0.85" stroke-width="1.43"/>
<path d="M488.7 295.6 C486.5 296.4 480.0 298.2 475.1 299.9 C470.2 301.6 465.3 303.5 459.5 305.8 C453.6 308.1 443.2 312.3 440.0 313.6" fill="none" stroke="url(#g65)" stroke-opacity="0.80" stroke-width="1.43"/>
<path d="M465.0 304.8 C465.3 306.9 466.7 313.3 467.3 317.5 C467.8 321.7 468.1 327.9 468.3 330.0" fill="none" stroke="url(#g66)" stroke-opacity="0.85" stroke-width="1.43"/>
<path d="M486.8 220.0 C486.8 223.2 487.1 233.0 486.8 239.5 C486.5 246.0 486.1 252.5 484.8 259.0 C483.5 265.5 480.9 273.3 479.0 278.5 C477.0 283.7 475.4 286.3 473.1 290.2 C470.9 294.1 466.6 299.9 465.3 301.9" fill="none" stroke="url(#g67)" stroke-opacity="0.85" stroke-width="1.43"/>
<path d="M455.6 223.9 C457.2 225.8 463.1 231.4 465.3 235.6 C467.6 239.8 468.9 244.7 469.2 249.2 C469.6 253.8 467.9 258.0 467.3 262.9 C466.6 267.8 465.5 272.6 465.3 278.5 C465.2 284.3 466.0 292.1 466.3 298.0 C466.6 303.8 467.1 311.0 467.3 313.6" fill="none" stroke="url(#g68)" stroke-opacity="0.85" stroke-width="1.43"/>
<path d="M496.5 330.0 C500.1 326.3 511.2 315.0 518.0 307.7 C524.8 300.5 531.0 293.1 537.5 286.3 C544.0 279.5 549.9 273.3 557.0 266.8 C564.1 260.3 576.2 250.5 580.0 247.3" fill="none" stroke="rgb(215,70,100)" stroke-opacity="0.55" stroke-width="1.30"/>
<path d="M440.0 284.3 C446.5 281.7 466.0 273.6 479.0 268.7 C492.0 263.9 506.6 259.3 518.0 255.1 C529.4 250.9 536.9 247.6 547.2 243.4 C557.6 239.2 574.5 232.0 580.0 229.7" fill="none" stroke="rgb(215,70,100)" stroke-opacity="0.55" stroke-width="1.30"/>
<path d="M440.0 268.7 C444.9 266.8 459.5 261.3 469.2 257.0 C479.0 252.8 488.7 247.9 498.5 243.4 C508.2 238.8 519.6 233.6 527.7 229.7 C535.9 225.8 544.0 221.6 547.2 220.0" fill="none" stroke="rgb(215,70,100)" stroke-opacity="0.50" stroke-width="1.30"/>
<path d="M440.0 296.0 C444.9 295.7 459.5 295.7 469.2 294.1 C479.0 292.5 489.7 289.5 498.5 286.3 C507.3 283.0 514.7 278.7 521.9 274.6 C529.0 270.5 534.9 266.1 541.4 261.9 C547.9 257.7 554.4 253.3 560.9 249.2 C567.3 245.2 576.8 239.5 580.0 237.5" fill="none" stroke="rgb(110,30,150)" stroke-opacity="0.70" stroke-width="1.30"/>
<path d="M274.0 154.9 C276.5 154.3 283.2 152.5 289.0 151.4 C294.7 150.3 302.0 149.0 308.5 148.5 C315.0 147.9 322.8 148.0 328.0 148.1 C333.2 148.2 337.7 149.1 339.7 149.3" fill="none" stroke="url(#g69)" stroke-opacity="0.85" stroke-width="1.43"/>
<path d="M353.3 200.0 C356.9 197.2 368.7 187.9 374.8 183.6 C380.9 179.2 387.5 175.5 390.0 173.8" fill="none" stroke="rgb(215,70,100)" stroke-opacity="0.50" stroke-width="1.30"/>
<path d="M361.1 200.0 C364.1 197.9 373.9 190.8 378.7 187.5 C383.5 184.2 388.1 181.3 390.0 180.1" fill="none" stroke="rgb(215,70,100)" stroke-opacity="0.50" stroke-width="1.30"/>
<path d="M416.9 389.2 C419.1 388.8 422.5 389.2 430.3 386.8 C438.1 384.5 453.7 379.6 463.7 375.1 C473.7 370.7 481.5 365.4 490.4 360.1 C499.3 354.8 508.1 348.1 517.2 343.4 C526.2 338.7 540.3 333.6 544.9 331.7" fill="none" stroke="url(#g70)" stroke-opacity="0.70" stroke-width="1.30"/>
<path d="M416.9 346.7 C419.1 345.2 425.8 340.4 430.3 337.4 C434.7 334.3 440.3 330.6 443.6 328.4 C447.0 326.1 449.2 324.7 450.3 324.0" fill="none" stroke="rgb(215,70,100)" stroke-opacity="0.60" stroke-width="1.30"/>
<path d="M467.0 348.4 C467.0 345.9 466.9 338.1 467.0 333.4 C467.1 328.6 467.6 322.2 467.7 320.0" fill="none" stroke="url(#g71)" stroke-opacity="0.90" stroke-width="1.43"/>
<path d="M472.0 356.1 C474.0 353.4 479.6 345.0 483.7 340.1 C487.9 335.2 493.8 330.0 497.1 326.7 C500.5 323.3 502.7 321.1 503.8 320.0" fill="none" stroke="rgb(215,70,100)" stroke-opacity="0.60" stroke-width="1.30"/>
<path d="M350.1 325.0 C352.3 325.7 357.9 329.1 363.4 329.4 C369.0 329.6 378.5 328.2 383.5 326.7 C388.5 325.1 391.8 321.1 393.5 320.0" fill="none" stroke="rgb(110,30,150)" stroke-opacity="0.80" stroke-width="1.43"/>
<path d="M393.5 320.0 C395.7 321.0 401.9 324.8 406.9 326.0 C411.9 327.2 418.0 327.8 423.6 327.4 C429.2 326.9 436.4 324.6 440.3 323.3 C444.2 322.1 445.9 320.6 447.0 320.0" fill="none" stroke="url(#g72)" stroke-opacity="0.80" stroke-width="1.43"/>
<path d="M596.3 283.4 C597.0 281.8 599.2 278.1 600.5 274.0 C601.8 270.0 603.6 264.1 604.2 259.2 C604.8 254.2 604.8 248.9 604.2 244.3 C603.6 239.8 602.6 235.7 600.5 232.0 C598.4 228.2 595.4 224.9 591.9 222.1 C588.3 219.2 584.8 217.5 579.5 214.6 C574.1 211.7 565.9 207.4 559.7 204.7 C553.5 202.1 547.3 200.0 542.4 198.6 C537.4 197.1 532.1 196.5 530.0 196.1" fill="none" stroke="url(#g73)" stroke-opacity="0.90" stroke-width="1.43"/>
<path d="M600.5 303.0 C599.5 301.2 597.0 296.2 594.3 292.6 C591.6 289.0 588.1 284.7 584.4 281.4 C580.7 278.1 577.0 275.7 572.1 272.8 C567.1 269.9 560.1 266.8 554.7 264.1 C549.4 261.4 544.0 258.8 539.9 256.7 C535.8 254.6 531.6 252.6 530.0 251.7" fill="none" stroke="url(#g74)" stroke-opacity="0.90" stroke-width="1.43"/>
<path d="M584.4 229.0 C582.0 230.3 574.5 234.1 569.6 236.9 C564.6 239.7 559.7 242.7 554.7 245.6 C549.8 248.4 544.0 251.7 539.9 254.2 C535.8 256.7 531.6 259.4 530.0 260.4" fill="none" stroke="rgb(215,70,100)" stroke-opacity="0.60" stroke-width="1.30"/>
<path d="M604.2 180.0 C601.3 183.3 592.7 193.2 586.9 199.8 C581.1 206.4 575.4 213.0 569.6 219.6 C563.8 226.2 557.6 233.2 552.3 239.4 C546.9 245.6 541.1 252.6 537.4 256.7 C533.7 260.8 531.2 262.9 530.0 264.1" fill="none" stroke="rgb(215,70,100)" stroke-opacity="0.55" stroke-width="1.30"/>
<path d="M564.6 180.0 C564.6 184.1 564.8 196.5 564.1 204.7 C563.5 213.0 562.5 222.1 560.9 229.5 C559.4 236.9 557.4 243.1 554.7 249.3 C552.1 255.5 548.1 261.2 544.8 266.6 C541.5 272.0 537.4 277.7 534.9 281.4 C532.5 285.1 530.8 287.6 530.0 288.9" fill="none" stroke="rgb(110,30,150)" stroke-opacity="0.80" stroke-width="1.43"/>
<path d="M362.6 172.8 C361.4 174.3 357.8 178.4 355.5 181.8 C353.2 185.3 350.4 189.7 348.8 193.6 C347.3 197.5 346.6 201.7 346.3 205.3 C346.0 209.0 346.7 212.3 347.1 215.4 C347.6 218.5 347.7 221.0 348.8 223.8 C349.9 226.6 351.9 229.7 353.9 232.2 C355.8 234.7 357.8 236.6 360.6 238.9 C363.4 241.1 367.3 243.6 370.6 245.6 C374.0 247.6 376.8 249.1 380.7 250.6 C384.6 252.2 391.9 254.3 394.1 255.0" fill="none" stroke="url(#g75)" stroke-opacity="0.90" stroke-width="1.43"/>
<path d="M280.0 247.3 C282.8 245.3 291.2 239.4 296.8 235.5 C302.4 231.6 308.0 227.7 313.6 223.8 C319.2 219.9 324.8 215.9 330.4 212.0 C335.9 208.1 341.5 204.2 347.1 200.3 C352.7 196.4 358.9 192.2 363.9 188.5 C369.0 184.9 373.2 181.5 377.3 178.5 C381.5 175.4 385.3 172.6 389.1 170.1 C392.9 167.6 398.2 164.5 400.0 163.4" fill="none" stroke="rgb(215,70,100)" stroke-opacity="0.50" stroke-width="1.30"/>
<path d="M301.8 255.0 C305.2 252.3 315.8 243.5 322.0 238.9 C328.1 234.2 333.1 231.1 338.7 227.1 C344.3 223.2 349.9 219.3 355.5 215.4 C361.1 211.5 366.7 207.3 372.3 203.6 C377.9 200.0 384.5 196.4 389.1 193.6 C393.7 190.8 398.2 188.0 400.0 186.9" fill="none" stroke="rgb(160,15,85)" stroke-opacity="0.50" stroke-width="1.30"/>
<path d="M290.1 255.0 C294.0 252.0 306.3 242.7 313.6 237.2 C320.8 231.7 327.0 226.9 333.7 222.1 C340.4 217.3 347.1 213.1 353.9 208.7 C360.6 204.2 367.3 199.4 374.0 195.2 C380.7 191.1 389.8 186.1 394.1 183.5 C398.5 180.9 399.0 180.4 400.0 179.8" fill="none" stroke="rgb(215,70,100)" stroke-opacity="0.55" stroke-width="1.30"/>
<path d="M325.3 255.0 C328.4 252.3 337.9 243.5 343.8 238.9 C349.7 234.2 354.4 231.3 360.6 227.1 C366.7 222.9 374.1 217.9 380.7 213.7 C387.3 209.5 396.8 203.9 400.0 202.0" fill="none" stroke="rgb(160,15,85)" stroke-opacity="0.60" stroke-width="1.30"/>
<path d="M348.5 224.3 C349.1 225.3 350.4 228.3 352.2 230.5 C353.9 232.6 356.9 234.4 358.9 237.2 C360.8 240.0 362.8 244.3 363.9 247.3 C365.0 250.2 365.3 253.7 365.6 255.0" fill="none" stroke="url(#g76)" stroke-opacity="0.90" stroke-width="1.43"/>
<path d="M372.3 223.4 C371.5 224.6 369.0 227.9 367.3 230.5 C365.6 233.1 363.6 236.1 362.2 238.9 C360.8 241.7 359.6 244.6 358.9 247.3 C358.2 250.0 358.2 253.7 358.0 255.0" fill="none" stroke="url(#g77)" stroke-opacity="0.90" stroke-width="1.43"/>
<path d="M387.9 216.4 C387.0 217.6 383.9 221.2 382.4 223.8 C380.9 226.4 379.9 229.4 379.0 232.2 C378.2 235.0 377.7 236.8 377.3 240.6 C377.0 244.4 377.1 252.6 377.0 255.0" fill="none" stroke="url(#g78)" stroke-opacity="0.90" stroke-width="1.43"/>
<path d="M390.6 225.8 C390.1 226.6 388.5 228.3 387.4 230.5 C386.3 232.7 384.8 236.1 384.1 238.9 C383.3 241.7 382.9 245.9 382.7 247.3" fill="none" stroke="url(#g79)" stroke-opacity="0.90" stroke-width="1.43"/>
<path d="M337.1 245.8 C339.3 245.5 346.0 244.8 350.5 243.9 C355.0 243.1 358.9 241.7 363.9 240.6 C369.0 239.4 374.7 238.6 380.7 237.2 C386.7 235.8 396.8 233.0 400.0 232.2" fill="none" stroke="url(#g80)" stroke-opacity="0.90" stroke-width="1.43"/>
<path d="M401.9 266.5 C416.8 254.6 462.8 217.8 491.6 195.4 C520.3 173.0 559.3 143.5 574.5 132.1 C589.8 120.7 583.0 126.6 583.2 127.0 C583.4 127.3 585.0 126.5 576.0 134.0 C567.0 141.4 546.0 157.9 529.2 171.6 C512.4 185.3 484.1 208.6 475.0 216.0" fill="none" stroke="rgb(160,15,85)" stroke-opacity="0.55" stroke-width="1.30"/>
<path d="M428.5 251.2 C440.7 241.5 478.2 211.2 501.3 193.1 C524.5 175.0 554.9 151.9 567.4 142.7 C579.8 133.4 575.8 137.3 576.1 137.6 C576.4 138.0 577.9 137.3 568.9 144.7 C559.9 152.2 539.0 168.6 522.1 182.3 C505.3 196.0 477.0 219.4 468.0 226.8" fill="none" stroke="url(#g81)" stroke-opacity="0.55" stroke-width="1.30"/>
<path d="M407.3 271.4 C421.0 260.5 463.4 226.5 489.7 206.0 C516.1 185.4 551.4 158.6 565.5 148.2 C579.5 137.7 573.9 142.8 574.2 143.1 C574.5 143.5 576.0 142.8 567.1 150.3 C558.1 157.7 537.1 174.2 520.3 187.9 C503.4 201.5 475.2 224.9 466.1 232.3" fill="none" stroke="rgb(160,15,85)" stroke-opacity="0.55" stroke-width="1.30"/>
<path d="M417.2 269.2 C430.1 259.0 469.7 227.0 494.3 207.9 C518.8 188.7 551.4 163.9 564.6 154.2 C577.8 144.4 573.1 148.9 573.5 149.3 C573.8 149.7 575.4 149.1 566.4 156.6 C557.5 164.1 536.5 180.5 519.6 194.2 C502.8 207.9 474.5 231.3 465.5 238.7" fill="none" stroke="url(#g82)" stroke-opacity="0.55" stroke-width="1.30"/>
<path d="M429.4 265.1 C441.4 255.4 478.7 225.3 501.7 207.3 C524.7 189.3 555.0 166.3 567.4 157.1 C579.8 148.0 576.0 151.9 576.3 152.3 C576.6 152.7 578.3 152.2 569.3 159.6 C560.3 167.1 539.3 183.6 522.5 197.3 C505.7 210.9 477.4 234.3 468.4 241.7" fill="none" stroke="rgb(160,15,85)" stroke-opacity="0.55" stroke-width="1.30"/>
<path d="M370.0 207.8 C364.4 210.4 348.6 216.8 336.6 223.3 C324.5 229.8 310.0 238.2 297.7 246.6 C285.4 255.1 271.5 265.4 262.7 273.8 C254.0 282.3 248.5 291.0 245.2 297.2 C242.0 303.3 242.3 307.5 243.3 310.8 C244.2 314.0 245.2 315.3 251.0 316.6 C256.9 317.9 269.2 318.5 278.3 318.5 C287.3 318.5 299.3 316.9 305.5 316.6 C311.6 316.3 313.6 316.6 315.2 316.6" fill="none" stroke="url(#g83)" stroke-opacity="0.90" stroke-width="1.43"/>
<path d="M359.9 200.0 C355.3 203.2 341.7 212.3 332.7 219.4 C323.6 226.6 314.5 235.0 305.5 242.8 C296.4 250.5 284.7 258.9 278.3 266.1 C271.8 273.2 267.9 280.3 266.6 285.5 C265.3 290.7 267.2 294.9 270.5 297.2 C273.7 299.4 278.3 299.1 286.0 299.1 C293.8 299.1 307.4 298.1 317.1 297.2 C326.8 296.2 337.2 294.6 344.3 293.3 C351.5 292.0 357.3 290.0 359.9 289.4" fill="none" stroke="url(#g84)" stroke-opacity="0.85" stroke-width="1.43"/>
<path d="M370.0 223.3 C363.8 227.2 343.4 238.9 332.7 246.6 C321.9 254.4 311.9 262.8 305.5 270.0 C299.0 277.1 294.8 284.9 293.8 289.4 C292.8 293.9 294.4 295.9 299.6 297.2 C304.8 298.5 316.1 298.1 324.9 297.2 C333.6 296.2 347.6 292.3 352.1 291.3" fill="none" stroke="url(#g85)" stroke-opacity="0.85" stroke-width="1.43"/>
<path d="M352.1 203.9 C347.6 208.4 330.7 223.3 324.9 231.1 C319.1 238.9 317.8 245.3 317.1 250.5 C316.5 255.7 316.5 259.6 321.0 262.2 C325.5 264.8 336.2 266.1 344.3 266.1 C352.5 266.1 365.7 262.8 370.0 262.2" fill="none" stroke="url(#g86)" stroke-opacity="0.85" stroke-width="1.43"/>
<path d="M278.3 386.6 C286.0 382.7 309.6 370.4 324.9 363.2 C340.2 356.1 362.5 347.0 370.0 343.8" fill="none" stroke="rgb(215,70,100)" stroke-opacity="0.50" stroke-width="1.30"/>
<path d="M337.1 245.4 C341.8 244.9 354.7 243.4 365.3 241.9 C375.9 240.4 390.1 238.4 400.7 236.6 C411.3 234.8 424.2 232.2 428.9 231.3" fill="none" stroke="url(#g87)" stroke-opacity="0.90" stroke-width="1.43"/>
<path d="M344.8 264.9 C347.7 263.1 354.9 257.8 361.8 254.3 C368.8 250.7 378.3 246.6 386.5 243.7 C394.8 240.7 403.6 239.0 411.3 236.6 C418.9 234.3 428.9 230.7 432.5 229.5" fill="none" stroke="url(#g88)" stroke-opacity="0.90" stroke-width="1.43"/>
<path d="M365.3 320.0 C365.9 314.9 365.9 298.2 368.9 289.6 C371.8 281.0 376.5 273.7 383.0 268.4 C389.5 263.1 399.5 261.9 407.7 257.8 C416.0 253.7 428.4 246.0 432.5 243.7" fill="none" stroke="url(#g89)" stroke-opacity="0.85" stroke-width="1.43"/>
<path d="M446.6 320.0 C446.9 314.9 447.9 299.4 448.4 289.6 C448.8 279.8 449.1 270.2 449.4 261.3 C449.7 252.5 450.0 240.7 450.1 236.6" fill="none" stroke="url(#g90)" stroke-opacity="0.85" stroke-width="1.43"/>
<path d="M464.3 320.0 C464.2 314.9 464.0 299.4 463.6 289.6 C463.1 279.8 462.2 270.8 461.4 261.3 C460.7 251.9 459.4 237.8 459.0 233.1" fill="none" stroke="url(#g91)" stroke-opacity="0.85" stroke-width="1.43"/>
<path d="M421.9 303.7 C421.3 300.8 418.3 292.0 418.3 286.1 C418.3 280.2 418.9 273.7 421.9 268.4 C424.8 263.1 431.3 259.0 436.0 254.3 C440.7 249.6 447.8 242.5 450.1 240.1" fill="none" stroke="url(#g92)" stroke-opacity="0.85" stroke-width="1.43"/>
<path d="M362.5 173.0 C361.8 175.9 358.4 184.8 358.3 190.7 C358.2 196.6 358.9 203.0 361.8 208.3 C364.7 213.6 369.5 218.9 375.9 222.5 C382.4 226.0 392.4 228.1 400.7 229.5 C408.9 231.0 421.3 231.0 425.4 231.3" fill="none" stroke="url(#g93)" stroke-opacity="0.85" stroke-width="1.43"/>
<path d="M407.7 173.0 C405.4 175.9 396.5 184.2 393.6 190.7 C390.7 197.1 389.5 204.2 390.1 211.9 C390.7 219.5 393.6 229.0 397.1 236.6 C400.7 244.3 406.0 251.9 411.3 257.8 C416.6 263.7 422.5 269.0 428.9 271.9 C435.4 274.9 443.1 276.1 450.1 275.5 C457.2 274.9 467.8 269.6 471.3 268.4" fill="none" stroke="url(#g94)" stroke-opacity="0.85" stroke-width="1.43"/>
<path d="M506.7 155.3 C504.9 157.7 500.2 164.8 496.1 169.5 C492.0 174.2 486.1 179.5 481.9 183.6 C477.8 187.7 473.1 192.4 471.3 194.2" fill="none" stroke="url(#g95)" stroke-opacity="0.85" stroke-width="1.43"/>
<path d="M485.5 296.7 C484.3 294.3 480.8 287.3 478.4 282.5 C476.1 277.8 473.7 273.1 471.3 268.4 C469.0 263.7 466.6 259.6 464.3 254.3 C461.9 249.0 458.4 239.6 457.2 236.6" fill="none" stroke="url(#g96)" stroke-opacity="0.85" stroke-width="1.43"/>
<path d="M436.0 240.1 C440.7 241.3 454.9 244.9 464.3 247.2 C473.7 249.6 483.1 251.9 492.5 254.3 C502.0 256.6 512.6 258.4 520.8 261.3 C529.1 264.3 535.5 267.8 542.0 271.9 C548.6 276.1 557.0 283.7 560.0 286.1" fill="none" stroke="url(#g97)" stroke-opacity="0.85" stroke-width="1.43"/>
<path d="M425.4 236.6 C428.9 240.1 440.1 250.7 446.6 257.8 C453.1 264.9 459.0 272.5 464.3 279.0 C469.6 285.5 474.3 289.8 478.4 296.7 C482.5 303.5 487.2 316.1 489.0 320.0" fill="none" stroke="url(#g98)" stroke-opacity="0.85" stroke-width="1.43"/>
<path d="M383.0 275.5 C387.7 276.1 401.8 278.4 411.3 279.0 C420.7 279.6 429.5 279.6 439.5 279.0 C449.6 278.4 461.3 277.8 471.3 275.5 C481.4 273.1 491.4 269.0 499.6 264.9 C507.9 260.8 517.3 253.1 520.8 250.7" fill="none" stroke="rgb(110,30,150)" stroke-opacity="0.85" stroke-width="1.43"/>
<path d="M400.7 250.7 C397.7 254.3 387.7 264.3 383.0 271.9 C378.3 279.6 374.8 288.7 372.4 296.7 C370.0 304.7 369.5 316.1 368.9 320.0" fill="none" stroke="url(#g99)" stroke-opacity="0.80" stroke-width="1.43"/>
<path d="M330.0 306.8 C333.0 308.3 340.4 313.2 347.8 315.8 C355.3 318.4 364.2 321.0 374.6 322.4 C385.0 323.9 398.3 325.4 410.2 324.7 C422.1 323.9 434.7 321.0 445.9 318.0 C457.0 315.0 466.7 311.7 477.1 306.8 C487.5 302.0 499.3 294.2 508.3 289.0 C517.2 283.8 526.8 277.9 530.5 275.7" fill="none" stroke="url(#g100)" stroke-opacity="0.85" stroke-width="1.43"/>
<path d="M338.9 297.9 C342.6 300.2 352.3 308.0 361.2 311.3 C370.1 314.6 381.2 317.2 392.4 318.0 C403.5 318.7 416.9 317.6 428.0 315.8 C439.2 313.9 448.8 310.9 459.2 306.8 C469.6 302.8 480.8 296.4 490.4 291.2 C500.1 286.0 512.7 278.3 517.2 275.7" fill="none" stroke="url(#g101)" stroke-opacity="0.85" stroke-width="1.43"/>
<path d="M356.7 289.0 C359.7 291.2 366.4 299.0 374.6 302.4 C382.7 305.7 395.4 308.3 405.8 309.1 C416.2 309.8 426.6 308.7 437.0 306.8 C447.3 305.0 457.7 302.0 468.1 297.9 C478.5 293.8 494.1 284.9 499.3 282.3" fill="none" stroke="url(#g102)" stroke-opacity="0.85" stroke-width="1.43"/>
<path d="M374.6 280.1 C376.8 282.3 381.2 290.1 387.9 293.5 C394.6 296.8 405.0 299.4 414.7 300.2 C424.3 300.9 435.5 299.8 445.9 297.9 C456.3 296.1 471.9 290.5 477.1 289.0" fill="none" stroke="url(#g103)" stroke-opacity="0.85" stroke-width="1.43"/>
<path d="M392.4 271.2 C394.6 273.4 399.8 281.2 405.8 284.6 C411.7 287.9 419.1 290.5 428.0 291.2 C437.0 292.0 449.6 290.9 459.2 289.0 C468.9 287.2 481.5 281.6 486.0 280.1" fill="none" stroke="url(#g104)" stroke-opacity="0.85" stroke-width="1.43"/>
<path d="M330.0 333.6 C334.5 336.6 347.8 347.3 356.7 351.4 C365.7 355.5 373.1 358.1 383.5 358.1 C393.9 358.1 405.8 356.2 419.1 351.4 C432.5 346.6 456.3 332.8 463.7 329.1" fill="none" stroke="url(#g105)" stroke-opacity="0.80" stroke-width="1.43"/>
<path d="M232.0 312.0 C237.9 306.5 254.4 290.7 267.4 279.1 C280.4 267.5 296.6 253.7 309.8 242.4 C323.0 231.1 336.6 219.5 346.6 211.3 C356.6 203.1 366.1 196.1 370.0 193.0" fill="none" stroke="rgb(215,70,100)" stroke-opacity="0.55" stroke-width="1.30"/>
<line x1="91.0" y1="494.0" x2="644.5" y2="71.5" stroke="#000" stroke-width="2.8" stroke-dasharray="10.7 5.3"/>
<circle cx="274.1" cy="155.0" r="3.9" fill="#ff1a1a" fill-opacity="0.86" stroke="#c80000" stroke-opacity="0.7" stroke-width="0.8"/>
<circle cx="348.1" cy="157.5" r="3.9" fill="#ff1a1a" fill-opacity="0.86" stroke="#c80000" stroke-opacity="0.7" stroke-width="0.8"/>
<circle cx="362.6" cy="172.8" r="3.9" fill="#ff1a1a" fill-opacity="0.86" stroke="#c80000" stroke-opacity="0.7" stroke-width="0.8"/>
<circle cx="254.2" cy="225.3" r="3.9" fill="#ff1a1a" fill-opacity="0.86" stroke="#c80000" stroke-opacity="0.7" stroke-width="0.8"/>
<circle cx="307.1" cy="230.3" r="3.9" fill="#ff1a1a" fill-opacity="0.86" stroke="#c80000" stroke-opacity="0.7" stroke-width="0.8"/>
<circle cx="333.5" cy="232.0" r="3.9" fill="#ff1a1a" fill-opacity="0.86" stroke="#c80000" stroke-opacity="0.7" stroke-width="0.8"/>
<circle cx="348.6" cy="224.6" r="3.9" fill="#ff1a1a" fill-opacity="0.86" stroke="#c80000" stroke-opacity="0.7" stroke-width="0.8"/>
<circle cx="337.0" cy="245.8" r="3.9" fill="#ff1a1a" fill-opacity="0.86" stroke="#c80000" stroke-opacity="0.7" stroke-width="0.8"/>
<circle cx="323.9" cy="252.6" r="3.9" fill="#ff1a1a" fill-opacity="0.86" stroke="#c80000" stroke-opacity="0.7" stroke-width="0.8"/>
<circle cx="345.1" cy="265.0" r="3.9" fill="#ff1a1a" fill-opacity="0.86" stroke="#c80000" stroke-opacity="0.7" stroke-width="0.8"/>
<circle cx="361.2" cy="272.1" r="3.9" fill="#ff1a1a" fill-opacity="0.86" stroke="#c80000" stroke-opacity="0.7" stroke-width="0.8"/>
<circle cx="374.4" cy="138.8" r="3.9" fill="#ff1a1a" fill-opacity="0.86" stroke="#c80000" stroke-opacity="0.7" stroke-width="0.8"/>
<circle cx="456.8" cy="99.6" r="3.9" fill="#ff1a1a" fill-opacity="0.86" stroke="#c80000" stroke-opacity="0.7" stroke-width="0.8"/>
<circle cx="430.9" cy="118.9" r="3.9" fill="#ff1a1a" fill-opacity="0.86" stroke="#c80000" stroke-opacity="0.7" stroke-width="0.8"/>
<circle cx="423.8" cy="138.2" r="3.9" fill="#ff1a1a" fill-opacity="0.86" stroke="#c80000" stroke-opacity="0.7" stroke-width="0.8"/>
<circle cx="423.6" cy="147.0" r="3.9" fill="#ff1a1a" fill-opacity="0.86" stroke="#c80000" stroke-opacity="0.7" stroke-width="0.8"/>
<circle cx="414.3" cy="151.2" r="3.9" fill="#ff1a1a" fill-opacity="0.86" stroke="#c80000" stroke-opacity="0.7" stroke-width="0.8"/>
<circle cx="406.9" cy="152.0" r="3.9" fill="#ff1a1a" fill-opacity="0.86" stroke="#c80000" stroke-opacity="0.7" stroke-width="0.8"/>
<circle cx="437.3" cy="149.0" r="3.9" fill="#ff1a1a" fill-opacity="0.86" stroke="#c80000" stroke-opacity="0.7" stroke-width="0.8"/>
<circle cx="448.6" cy="146.8" r="3.9" fill="#ff1a1a" fill-opacity="0.86" stroke="#c80000" stroke-opacity="0.7" stroke-width="0.8"/>
<circle cx="440.9" cy="161.8" r="3.9" fill="#ff1a1a" fill-opacity="0.86" stroke="#c80000" stroke-opacity="0.7" stroke-width="0.8"/>
<circle cx="420.8" cy="166.8" r="3.9" fill="#ff1a1a" fill-opacity="0.86" stroke="#c80000" stroke-opacity="0.7" stroke-width="0.8"/>
<circle cx="408.4" cy="171.6" r="3.9" fill="#ff1a1a" fill-opacity="0.86" stroke="#c80000" stroke-opacity="0.7" stroke-width="0.8"/>
<circle cx="377.5" cy="176.5" r="3.9" fill="#ff1a1a" fill-opacity="0.86" stroke="#c80000" stroke-opacity="0.7" stroke-width="0.8"/>
<circle cx="376.1" cy="183.8" r="3.9" fill="#ff1a1a" fill-opacity="0.86" stroke="#c80000" stroke-opacity="0.7" stroke-width="0.8"/>
<circle cx="372.6" cy="195.5" r="3.9" fill="#ff1a1a" fill-opacity="0.86" stroke="#c80000" stroke-opacity="0.7" stroke-width="0.8"/>
<circle cx="412.8" cy="203.3" r="3.9" fill="#ff1a1a" fill-opacity="0.86" stroke="#c80000" stroke-opacity="0.7" stroke-width="0.8"/>
<circle cx="448.0" cy="192.4" r="3.9" fill="#ff1a1a" fill-opacity="0.86" stroke="#c80000" stroke-opacity="0.7" stroke-width="0.8"/>
<circle cx="448.1" cy="197.9" r="3.9" fill="#ff1a1a" fill-opacity="0.86" stroke="#c80000" stroke-opacity="0.7" stroke-width="0.8"/>
<circle cx="443.2" cy="200.5" r="3.9" fill="#ff1a1a" fill-opacity="0.86" stroke="#c80000" stroke-opacity="0.7" stroke-width="0.8"/>
<circle cx="463.5" cy="197.9" r="3.9" fill="#ff1a1a" fill-opacity="0.86" stroke="#c80000" stroke-opacity="0.7" stroke-width="0.8"/>
<circle cx="442.0" cy="210.2" r="3.9" fill="#ff1a1a" fill-opacity="0.86" stroke="#c80000" stroke-opacity="0.7" stroke-width="0.8"/>
<circle cx="388.0" cy="216.4" r="3.9" fill="#ff1a1a" fill-opacity="0.86" stroke="#c80000" stroke-opacity="0.7" stroke-width="0.8"/>
<circle cx="424.7" cy="218.6" r="3.9" fill="#ff1a1a" fill-opacity="0.86" stroke="#c80000" stroke-opacity="0.7" stroke-width="0.8"/>
<circle cx="372.3" cy="223.3" r="3.9" fill="#ff1a1a" fill-opacity="0.86" stroke="#c80000" stroke-opacity="0.7" stroke-width="0.8"/>
<circle cx="390.6" cy="225.9" r="3.9" fill="#ff1a1a" fill-opacity="0.86" stroke="#c80000" stroke-opacity="0.7" stroke-width="0.8"/>
<circle cx="399.0" cy="242.4" r="3.9" fill="#ff1a1a" fill-opacity="0.86" stroke="#c80000" stroke-opacity="0.7" stroke-width="0.8"/>
<circle cx="377.7" cy="245.8" r="3.9" fill="#ff1a1a" fill-opacity="0.86" stroke="#c80000" stroke-opacity="0.7" stroke-width="0.8"/>
<circle cx="511.9" cy="154.8" r="3.9" fill="#ff1a1a" fill-opacity="0.86" stroke="#c80000" stroke-opacity="0.7" stroke-width="0.8"/>
<circle cx="509.0" cy="165.7" r="3.9" fill="#ff1a1a" fill-opacity="0.86" stroke="#c80000" stroke-opacity="0.7" stroke-width="0.8"/>
<circle cx="537.4" cy="162.0" r="3.9" fill="#ff1a1a" fill-opacity="0.86" stroke="#c80000" stroke-opacity="0.7" stroke-width="0.8"/>
<circle cx="590.2" cy="134.8" r="3.9" fill="#ff1a1a" fill-opacity="0.86" stroke="#c80000" stroke-opacity="0.7" stroke-width="0.8"/>
<circle cx="497.0" cy="189.1" r="3.9" fill="#ff1a1a" fill-opacity="0.86" stroke="#c80000" stroke-opacity="0.7" stroke-width="0.8"/>
<circle cx="477.9" cy="215.3" r="3.9" fill="#ff1a1a" fill-opacity="0.86" stroke="#c80000" stroke-opacity="0.7" stroke-width="0.8"/>
<circle cx="495.4" cy="215.3" r="3.9" fill="#ff1a1a" fill-opacity="0.86" stroke="#c80000" stroke-opacity="0.7" stroke-width="0.8"/>
<circle cx="496.2" cy="220.9" r="3.9" fill="#ff1a1a" fill-opacity="0.86" stroke="#c80000" stroke-opacity="0.7" stroke-width="0.8"/>
<circle cx="504.6" cy="218.6" r="3.9" fill="#ff1a1a" fill-opacity="0.86" stroke="#c80000" stroke-opacity="0.7" stroke-width="0.8"/>
<circle cx="471.5" cy="231.2" r="3.9" fill="#ff1a1a" fill-opacity="0.86" stroke="#c80000" stroke-opacity="0.7" stroke-width="0.8"/>
<circle cx="485.1" cy="235.2" r="3.9" fill="#ff1a1a" fill-opacity="0.86" stroke="#c80000" stroke-opacity="0.7" stroke-width="0.8"/>
<circle cx="492.2" cy="236.0" r="3.9" fill="#ff1a1a" fill-opacity="0.86" stroke="#c80000" stroke-opacity="0.7" stroke-width="0.8"/>
<circle cx="495.4" cy="240.7" r="3.9" fill="#ff1a1a" fill-opacity="0.86" stroke="#c80000" stroke-opacity="0.7" stroke-width="0.8"/>
<circle cx="505.7" cy="243.1" r="3.9" fill="#ff1a1a" fill-opacity="0.86" stroke="#c80000" stroke-opacity="0.7" stroke-width="0.8"/>
<circle cx="508.6" cy="250.5" r="3.9" fill="#ff1a1a" fill-opacity="0.86" stroke="#c80000" stroke-opacity="0.7" stroke-width="0.8"/>
<circle cx="479.8" cy="248.7" r="3.9" fill="#ff1a1a" fill-opacity="0.86" stroke="#c80000" stroke-opacity="0.7" stroke-width="0.8"/>
<circle cx="458.8" cy="242.3" r="3.9" fill="#ff1a1a" fill-opacity="0.86" stroke="#c80000" stroke-opacity="0.7" stroke-width="0.8"/>
<circle cx="465.2" cy="242.3" r="3.9" fill="#ff1a1a" fill-opacity="0.86" stroke="#c80000" stroke-opacity="0.7" stroke-width="0.8"/>
<circle cx="462.8" cy="247.9" r="3.9" fill="#ff1a1a" fill-opacity="0.86" stroke="#c80000" stroke-opacity="0.7" stroke-width="0.8"/>
<circle cx="467.6" cy="250.3" r="3.9" fill="#ff1a1a" fill-opacity="0.86" stroke="#c80000" stroke-opacity="0.7" stroke-width="0.8"/>
<circle cx="457.2" cy="249.5" r="3.9" fill="#ff1a1a" fill-opacity="0.86" stroke="#c80000" stroke-opacity="0.7" stroke-width="0.8"/>
<circle cx="468.4" cy="254.3" r="3.9" fill="#ff1a1a" fill-opacity="0.86" stroke="#c80000" stroke-opacity="0.7" stroke-width="0.8"/>
<circle cx="439.9" cy="257.0" r="3.9" fill="#ff1a1a" fill-opacity="0.86" stroke="#c80000" stroke-opacity="0.7" stroke-width="0.8"/>
<circle cx="523.8" cy="211.3" r="3.9" fill="#ff1a1a" fill-opacity="0.86" stroke="#c80000" stroke-opacity="0.7" stroke-width="0.8"/>
<circle cx="518.6" cy="214.7" r="3.9" fill="#ff1a1a" fill-opacity="0.86" stroke="#c80000" stroke-opacity="0.7" stroke-width="0.8"/>
<circle cx="538.4" cy="220.4" r="3.9" fill="#ff1a1a" fill-opacity="0.86" stroke="#c80000" stroke-opacity="0.7" stroke-width="0.8"/>
<circle cx="544.0" cy="224.8" r="3.9" fill="#ff1a1a" fill-opacity="0.86" stroke="#c80000" stroke-opacity="0.7" stroke-width="0.8"/>
<circle cx="584.4" cy="228.9" r="3.9" fill="#ff1a1a" fill-opacity="0.86" stroke="#c80000" stroke-opacity="0.7" stroke-width="0.8"/>
<circle cx="540.0" cy="249.0" r="3.9" fill="#ff1a1a" fill-opacity="0.86" stroke="#c80000" stroke-opacity="0.7" stroke-width="0.8"/>
<circle cx="521.3" cy="269.2" r="3.9" fill="#ff1a1a" fill-opacity="0.86" stroke="#c80000" stroke-opacity="0.7" stroke-width="0.8"/>
<circle cx="565.7" cy="269.5" r="3.9" fill="#ff1a1a" fill-opacity="0.86" stroke="#c80000" stroke-opacity="0.7" stroke-width="0.8"/>
<circle cx="512.4" cy="279.3" r="3.9" fill="#ff1a1a" fill-opacity="0.86" stroke="#c80000" stroke-opacity="0.7" stroke-width="0.8"/>
<circle cx="596.4" cy="283.9" r="3.9" fill="#ff1a1a" fill-opacity="0.86" stroke="#c80000" stroke-opacity="0.7" stroke-width="0.8"/>
<circle cx="600.7" cy="303.0" r="3.9" fill="#ff1a1a" fill-opacity="0.86" stroke="#c80000" stroke-opacity="0.7" stroke-width="0.8"/>
<circle cx="544.8" cy="331.6" r="3.9" fill="#ff1a1a" fill-opacity="0.86" stroke="#c80000" stroke-opacity="0.7" stroke-width="0.8"/>
<circle cx="424.2" cy="269.7" r="3.9" fill="#ff1a1a" fill-opacity="0.86" stroke="#c80000" stroke-opacity="0.7" stroke-width="0.8"/>
<circle cx="453.5" cy="260.9" r="3.9" fill="#ff1a1a" fill-opacity="0.86" stroke="#c80000" stroke-opacity="0.7" stroke-width="0.8"/>
<circle cx="457.7" cy="259.2" r="3.9" fill="#ff1a1a" fill-opacity="0.86" stroke="#c80000" stroke-opacity="0.7" stroke-width="0.8"/>
<circle cx="471.9" cy="263.0" r="3.9" fill="#ff1a1a" fill-opacity="0.86" stroke="#c80000" stroke-opacity="0.7" stroke-width="0.8"/>
<circle cx="460.2" cy="268.4" r="3.9" fill="#ff1a1a" fill-opacity="0.86" stroke="#c80000" stroke-opacity="0.7" stroke-width="0.8"/>
<circle cx="463.2" cy="271.7" r="3.9" fill="#ff1a1a" fill-opacity="0.86" stroke="#c80000" stroke-opacity="0.7" stroke-width="0.8"/>
<circle cx="447.6" cy="272.6" r="3.9" fill="#ff1a1a" fill-opacity="0.86" stroke="#c80000" stroke-opacity="0.7" stroke-width="0.8"/>
<circle cx="408.6" cy="286.4" r="3.9" fill="#ff1a1a" fill-opacity="0.86" stroke="#c80000" stroke-opacity="0.7" stroke-width="0.8"/>
<circle cx="431.8" cy="291.5" r="3.9" fill="#ff1a1a" fill-opacity="0.86" stroke="#c80000" stroke-opacity="0.7" stroke-width="0.8"/>
<circle cx="446.0" cy="288.4" r="3.9" fill="#ff1a1a" fill-opacity="0.86" stroke="#c80000" stroke-opacity="0.7" stroke-width="0.8"/>
<circle cx="488.6" cy="295.5" r="3.9" fill="#ff1a1a" fill-opacity="0.86" stroke="#c80000" stroke-opacity="0.7" stroke-width="0.8"/>
<circle cx="421.9" cy="304.0" r="3.9" fill="#ff1a1a" fill-opacity="0.86" stroke="#c80000" stroke-opacity="0.7" stroke-width="0.8"/>
<circle cx="442.0" cy="309.7" r="3.9" fill="#ff1a1a" fill-opacity="0.86" stroke="#c80000" stroke-opacity="0.7" stroke-width="0.8"/>
<circle cx="464.8" cy="304.8" r="3.9" fill="#ff1a1a" fill-opacity="0.86" stroke="#c80000" stroke-opacity="0.7" stroke-width="0.8"/>
<circle cx="448.9" cy="321.2" r="3.9" fill="#ff1a1a" fill-opacity="0.86" stroke="#c80000" stroke-opacity="0.7" stroke-width="0.8"/>
<circle cx="450.9" cy="326.9" r="3.9" fill="#ff1a1a" fill-opacity="0.86" stroke="#c80000" stroke-opacity="0.7" stroke-width="0.8"/>
<circle cx="466.8" cy="348.4" r="3.9" fill="#ff1a1a" fill-opacity="0.86" stroke="#c80000" stroke-opacity="0.7" stroke-width="0.8"/>
<circle cx="472.1" cy="356.5" r="3.9" fill="#ff1a1a" fill-opacity="0.86" stroke="#c80000" stroke-opacity="0.7" stroke-width="0.8"/>
<circle cx="348.1" cy="325.9" r="3.9" fill="#ff1a1a" fill-opacity="0.86" stroke="#c80000" stroke-opacity="0.7" stroke-width="0.8"/>
<circle cx="303.4" cy="313.8" r="3.9" fill="#ff1a1a" fill-opacity="0.86" stroke="#c80000" stroke-opacity="0.7" stroke-width="0.8"/>
<circle cx="370.7" cy="292.8" r="3.9" fill="#ff1a1a" fill-opacity="0.86" stroke="#c80000" stroke-opacity="0.7" stroke-width="0.8"/>
<circle cx="200.4" cy="405.0" r="3.9" fill="#1010ff" fill-opacity="0.9" stroke="#0000c0" stroke-opacity="0.6" stroke-width="0.7"/>
<circle cx="247.5" cy="375.1" r="3.9" fill="#1010ff" fill-opacity="0.9" stroke="#0000c0" stroke-opacity="0.6" stroke-width="0.7"/>
<circle cx="270.5" cy="356.0" r="3.9" fill="#1010ff" fill-opacity="0.9" stroke="#0000c0" stroke-opacity="0.6" stroke-width="0.7"/>
<circle cx="289.4" cy="340.9" r="3.9" fill="#1010ff" fill-opacity="0.9" stroke="#0000c0" stroke-opacity="0.6" stroke-width="0.7"/>
<circle cx="297.8" cy="335.1" r="3.9" fill="#1010ff" fill-opacity="0.9" stroke="#0000c0" stroke-opacity="0.6" stroke-width="0.7"/>
<circle cx="315.5" cy="317.0" r="3.9" fill="#1010ff" fill-opacity="0.9" stroke="#0000c0" stroke-opacity="0.6" stroke-width="0.7"/>
<circle cx="317.6" cy="327.4" r="3.9" fill="#1010ff" fill-opacity="0.9" stroke="#0000c0" stroke-opacity="0.6" stroke-width="0.7"/>
<circle cx="326.2" cy="316.7" r="3.9" fill="#1010ff" fill-opacity="0.9" stroke="#0000c0" stroke-opacity="0.6" stroke-width="0.7"/>
<circle cx="327.8" cy="307.2" r="3.9" fill="#1010ff" fill-opacity="0.9" stroke="#0000c0" stroke-opacity="0.6" stroke-width="0.7"/>
<circle cx="334.3" cy="310.1" r="3.9" fill="#1010ff" fill-opacity="0.9" stroke="#0000c0" stroke-opacity="0.6" stroke-width="0.7"/>
<circle cx="340.4" cy="300.8" r="3.9" fill="#1010ff" fill-opacity="0.9" stroke="#0000c0" stroke-opacity="0.6" stroke-width="0.7"/>
<circle cx="347.0" cy="296.0" r="3.9" fill="#1010ff" fill-opacity="0.9" stroke="#0000c0" stroke-opacity="0.6" stroke-width="0.7"/>
<circle cx="354.8" cy="291.2" r="3.9" fill="#1010ff" fill-opacity="0.9" stroke="#0000c0" stroke-opacity="0.6" stroke-width="0.7"/>
<circle cx="361.2" cy="287.2" r="3.9" fill="#1010ff" fill-opacity="0.9" stroke="#0000c0" stroke-opacity="0.6" stroke-width="0.7"/>
<circle cx="368.4" cy="277.7" r="3.9" fill="#1010ff" fill-opacity="0.9" stroke="#0000c0" stroke-opacity="0.6" stroke-width="0.7"/>
<circle cx="377.1" cy="280.9" r="3.9" fill="#1010ff" fill-opacity="0.9" stroke="#0000c0" stroke-opacity="0.6" stroke-width="0.7"/>
<circle cx="383.5" cy="272.9" r="3.9" fill="#1010ff" fill-opacity="0.9" stroke="#0000c0" stroke-opacity="0.6" stroke-width="0.7"/>
<circle cx="389.8" cy="269.0" r="3.9" fill="#1010ff" fill-opacity="0.9" stroke="#0000c0" stroke-opacity="0.6" stroke-width="0.7"/>
<circle cx="395.4" cy="261.0" r="3.9" fill="#1010ff" fill-opacity="0.9" stroke="#0000c0" stroke-opacity="0.6" stroke-width="0.7"/>
<circle cx="399.4" cy="256.2" r="3.9" fill="#1010ff" fill-opacity="0.9" stroke="#0000c0" stroke-opacity="0.6" stroke-width="0.7"/>
<circle cx="404.9" cy="251.5" r="3.9" fill="#1010ff" fill-opacity="0.9" stroke="#0000c0" stroke-opacity="0.6" stroke-width="0.7"/>
<circle cx="409.7" cy="249.1" r="3.9" fill="#1010ff" fill-opacity="0.9" stroke="#0000c0" stroke-opacity="0.6" stroke-width="0.7"/>
<circle cx="403.2" cy="252.7" r="3.9" fill="#1010ff" fill-opacity="0.9" stroke="#0000c0" stroke-opacity="0.6" stroke-width="0.7"/>
<circle cx="406.4" cy="255.9" r="3.9" fill="#1010ff" fill-opacity="0.9" stroke="#0000c0" stroke-opacity="0.6" stroke-width="0.7"/>
<circle cx="412.7" cy="244.7" r="3.9" fill="#1010ff" fill-opacity="0.9" stroke="#0000c0" stroke-opacity="0.6" stroke-width="0.7"/>
<circle cx="409.5" cy="247.9" r="3.9" fill="#1010ff" fill-opacity="0.9" stroke="#0000c0" stroke-opacity="0.6" stroke-width="0.7"/>
<circle cx="420.7" cy="241.5" r="3.9" fill="#1010ff" fill-opacity="0.9" stroke="#0000c0" stroke-opacity="0.6" stroke-width="0.7"/>
<circle cx="425.4" cy="243.9" r="3.9" fill="#1010ff" fill-opacity="0.9" stroke="#0000c0" stroke-opacity="0.6" stroke-width="0.7"/>
<circle cx="425.4" cy="232.8" r="3.9" fill="#1010ff" fill-opacity="0.9" stroke="#0000c0" stroke-opacity="0.6" stroke-width="0.7"/>
<circle cx="431.8" cy="235.2" r="3.9" fill="#1010ff" fill-opacity="0.9" stroke="#0000c0" stroke-opacity="0.6" stroke-width="0.7"/>
<circle cx="431.8" cy="230.4" r="3.9" fill="#1010ff" fill-opacity="0.9" stroke="#0000c0" stroke-opacity="0.6" stroke-width="0.7"/>
<circle cx="438.2" cy="225.6" r="3.9" fill="#1010ff" fill-opacity="0.9" stroke="#0000c0" stroke-opacity="0.6" stroke-width="0.7"/>
<circle cx="442.9" cy="220.9" r="3.9" fill="#1010ff" fill-opacity="0.9" stroke="#0000c0" stroke-opacity="0.6" stroke-width="0.7"/>
<circle cx="452.5" cy="222.5" r="3.9" fill="#1010ff" fill-opacity="0.9" stroke="#0000c0" stroke-opacity="0.6" stroke-width="0.7"/>
<circle cx="450.9" cy="216.1" r="3.9" fill="#1010ff" fill-opacity="0.9" stroke="#0000c0" stroke-opacity="0.6" stroke-width="0.7"/>
<circle cx="455.6" cy="210.5" r="3.9" fill="#1010ff" fill-opacity="0.9" stroke="#0000c0" stroke-opacity="0.6" stroke-width="0.7"/>
<circle cx="465.2" cy="215.3" r="3.9" fill="#1010ff" fill-opacity="0.9" stroke="#0000c0" stroke-opacity="0.6" stroke-width="0.7"/>
<circle cx="463.6" cy="211.3" r="3.9" fill="#1010ff" fill-opacity="0.9" stroke="#0000c0" stroke-opacity="0.6" stroke-width="0.7"/>
<circle cx="470.0" cy="201.0" r="3.9" fill="#1010ff" fill-opacity="0.9" stroke="#0000c0" stroke-opacity="0.6" stroke-width="0.7"/>
<circle cx="471.5" cy="195.4" r="3.9" fill="#1010ff" fill-opacity="0.9" stroke="#0000c0" stroke-opacity="0.6" stroke-width="0.7"/>
<circle cx="477.9" cy="201.8" r="3.9" fill="#1010ff" fill-opacity="0.9" stroke="#0000c0" stroke-opacity="0.6" stroke-width="0.7"/>
<circle cx="485.9" cy="197.0" r="3.9" fill="#1010ff" fill-opacity="0.9" stroke="#0000c0" stroke-opacity="0.6" stroke-width="0.7"/>
<circle cx="484.3" cy="190.7" r="3.9" fill="#1010ff" fill-opacity="0.9" stroke="#0000c0" stroke-opacity="0.6" stroke-width="0.7"/>
<circle cx="497.2" cy="182.7" r="3.9" fill="#1010ff" fill-opacity="0.9" stroke="#0000c0" stroke-opacity="0.6" stroke-width="0.7"/>
<circle cx="502.7" cy="186.6" r="3.9" fill="#1010ff" fill-opacity="0.9" stroke="#0000c0" stroke-opacity="0.6" stroke-width="0.7"/>
<circle cx="499.5" cy="177.9" r="3.9" fill="#1010ff" fill-opacity="0.9" stroke="#0000c0" stroke-opacity="0.6" stroke-width="0.7"/>
<circle cx="505.9" cy="177.1" r="3.9" fill="#1010ff" fill-opacity="0.9" stroke="#0000c0" stroke-opacity="0.6" stroke-width="0.7"/>
<circle cx="501.7" cy="179.5" r="3.9" fill="#1010ff" fill-opacity="0.9" stroke="#0000c0" stroke-opacity="0.6" stroke-width="0.7"/>
<circle cx="506.5" cy="177.2" r="3.9" fill="#1010ff" fill-opacity="0.9" stroke="#0000c0" stroke-opacity="0.6" stroke-width="0.7"/>
<circle cx="522.6" cy="166.0" r="3.9" fill="#1010ff" fill-opacity="0.9" stroke="#0000c0" stroke-opacity="0.6" stroke-width="0.7"/>
<circle cx="536.9" cy="154.8" r="3.9" fill="#1010ff" fill-opacity="0.9" stroke="#0000c0" stroke-opacity="0.6" stroke-width="0.7"/>
<circle cx="540.9" cy="150.9" r="3.9" fill="#1010ff" fill-opacity="0.9" stroke="#0000c0" stroke-opacity="0.6" stroke-width="0.7"/>
<circle cx="548.0" cy="146.1" r="3.9" fill="#1010ff" fill-opacity="0.9" stroke="#0000c0" stroke-opacity="0.6" stroke-width="0.7"/>
<circle cx="552.8" cy="136.6" r="3.9" fill="#1010ff" fill-opacity="0.9" stroke="#0000c0" stroke-opacity="0.6" stroke-width="0.7"/>
<circle cx="556.8" cy="142.1" r="3.9" fill="#1010ff" fill-opacity="0.9" stroke="#0000c0" stroke-opacity="0.6" stroke-width="0.7"/>
<circle cx="569.6" cy="126.3" r="3.9" fill="#1010ff" fill-opacity="0.9" stroke="#0000c0" stroke-opacity="0.6" stroke-width="0.7"/>
<circle cx="578.0" cy="125.6" r="3.9" fill="#1010ff" fill-opacity="0.9" stroke="#0000c0" stroke-opacity="0.6" stroke-width="0.7"/>
<circle cx="586.9" cy="115.6" r="3.9" fill="#1010ff" fill-opacity="0.9" stroke="#0000c0" stroke-opacity="0.6" stroke-width="0.7"/>
<circle cx="588.6" cy="115.1" r="3.9" fill="#1010ff" fill-opacity="0.9" stroke="#0000c0" stroke-opacity="0.6" stroke-width="0.7"/>
<circle cx="591.4" cy="113.2" r="3.9" fill="#1010ff" fill-opacity="0.9" stroke="#0000c0" stroke-opacity="0.6" stroke-width="0.7"/>
<circle cx="602.0" cy="104.7" r="3.9" fill="#1010ff" fill-opacity="0.9" stroke="#0000c0" stroke-opacity="0.6" stroke-width="0.7"/>
<circle cx="395.2" cy="255.4" r="3.9" fill="#1010ff" fill-opacity="0.9" stroke="#0000c0" stroke-opacity="0.6" stroke-width="0.7"/>
<circle cx="406.0" cy="250.8" r="3.9" fill="#1010ff" fill-opacity="0.9" stroke="#0000c0" stroke-opacity="0.6" stroke-width="0.7"/>
<circle cx="412.1" cy="247.0" r="3.9" fill="#1010ff" fill-opacity="0.9" stroke="#0000c0" stroke-opacity="0.6" stroke-width="0.7"/>
<circle cx="419.0" cy="242.4" r="3.9" fill="#1010ff" fill-opacity="0.9" stroke="#0000c0" stroke-opacity="0.6" stroke-width="0.7"/>
<circle cx="458.1" cy="211.8" r="3.9" fill="#1010ff" fill-opacity="0.9" stroke="#0000c0" stroke-opacity="0.6" stroke-width="0.7"/>
<circle cx="465.7" cy="211.8" r="3.9" fill="#1010ff" fill-opacity="0.9" stroke="#0000c0" stroke-opacity="0.6" stroke-width="0.7"/>
<circle cx="468.8" cy="198.0" r="3.9" fill="#1010ff" fill-opacity="0.9" stroke="#0000c0" stroke-opacity="0.6" stroke-width="0.7"/>
<circle cx="426.2" cy="231.2" r="3.9" fill="#1010ff" fill-opacity="0.9" stroke="#0000c0" stroke-opacity="0.6" stroke-width="0.7"/>
<circle cx="431.8" cy="227.9" r="3.9" fill="#1010ff" fill-opacity="0.9" stroke="#0000c0" stroke-opacity="0.6" stroke-width="0.7"/>
<circle cx="437.3" cy="224.5" r="3.9" fill="#1010ff" fill-opacity="0.9" stroke="#0000c0" stroke-opacity="0.6" stroke-width="0.7"/>
<circle cx="441.8" cy="221.2" r="3.9" fill="#1010ff" fill-opacity="0.9" stroke="#0000c0" stroke-opacity="0.6" stroke-width="0.7"/>
<circle cx="428.4" cy="234.5" r="3.9" fill="#1010ff" fill-opacity="0.9" stroke="#0000c0" stroke-opacity="0.6" stroke-width="0.7"/>
<circle cx="435.1" cy="230.1" r="3.9" fill="#1010ff" fill-opacity="0.9" stroke="#0000c0" stroke-opacity="0.6" stroke-width="0.7"/>
<circle cx="444.0" cy="220.0" r="3.9" fill="#1010ff" fill-opacity="0.9" stroke="#0000c0" stroke-opacity="0.6" stroke-width="0.7"/>
<circle cx="425.1" cy="233.4" r="3.9" fill="#1010ff" fill-opacity="0.9" stroke="#0000c0" stroke-opacity="0.6" stroke-width="0.7"/>
<circle cx="450.7" cy="216.7" r="3.9" fill="#1010ff" fill-opacity="0.9" stroke="#0000c0" stroke-opacity="0.6" stroke-width="0.7"/>
<circle cx="454.1" cy="213.4" r="3.9" fill="#1010ff" fill-opacity="0.9" stroke="#0000c0" stroke-opacity="0.6" stroke-width="0.7"/>
<circle cx="457.4" cy="211.1" r="3.9" fill="#1010ff" fill-opacity="0.9" stroke="#0000c0" stroke-opacity="0.6" stroke-width="0.7"/>
<circle cx="461.9" cy="210.0" r="3.9" fill="#1010ff" fill-opacity="0.9" stroke="#0000c0" stroke-opacity="0.6" stroke-width="0.7"/>
<circle cx="464.1" cy="213.4" r="3.9" fill="#1010ff" fill-opacity="0.9" stroke="#0000c0" stroke-opacity="0.6" stroke-width="0.7"/>
<circle cx="451.8" cy="222.3" r="3.9" fill="#1010ff" fill-opacity="0.9" stroke="#0000c0" stroke-opacity="0.6" stroke-width="0.7"/>
<circle cx="467.4" cy="208.9" r="3.9" fill="#1010ff" fill-opacity="0.9" stroke="#0000c0" stroke-opacity="0.6" stroke-width="0.7"/>
<circle cx="473.0" cy="202.2" r="3.9" fill="#1010ff" fill-opacity="0.9" stroke="#0000c0" stroke-opacity="0.6" stroke-width="0.7"/>
<circle cx="401.7" cy="254.6" r="3.9" fill="#1010ff" fill-opacity="0.9" stroke="#0000c0" stroke-opacity="0.6" stroke-width="0.7"/>
<circle cx="406.1" cy="250.1" r="3.9" fill="#1010ff" fill-opacity="0.9" stroke="#0000c0" stroke-opacity="0.6" stroke-width="0.7"/>
<circle cx="410.6" cy="246.8" r="3.9" fill="#1010ff" fill-opacity="0.9" stroke="#0000c0" stroke-opacity="0.6" stroke-width="0.7"/>
<circle cx="415.1" cy="244.6" r="3.9" fill="#1010ff" fill-opacity="0.9" stroke="#0000c0" stroke-opacity="0.6" stroke-width="0.7"/>
<circle cx="419.5" cy="242.3" r="3.9" fill="#1010ff" fill-opacity="0.9" stroke="#0000c0" stroke-opacity="0.6" stroke-width="0.7"/>
<circle cx="422.9" cy="241.2" r="3.9" fill="#1010ff" fill-opacity="0.9" stroke="#0000c0" stroke-opacity="0.6" stroke-width="0.7"/>
<circle cx="408.4" cy="252.4" r="3.9" fill="#1010ff" fill-opacity="0.9" stroke="#0000c0" stroke-opacity="0.6" stroke-width="0.7"/>
<circle cx="412.8" cy="249.0" r="3.9" fill="#1010ff" fill-opacity="0.9" stroke="#0000c0" stroke-opacity="0.6" stroke-width="0.7"/>
<circle cx="398.3" cy="257.9" r="3.9" fill="#1010ff" fill-opacity="0.9" stroke="#0000c0" stroke-opacity="0.6" stroke-width="0.7"/>
<circle cx="350.7" cy="294.8" r="3.9" fill="#1010ff" fill-opacity="0.9" stroke="#0000c0" stroke-opacity="0.6" stroke-width="0.7"/>
<circle cx="358.5" cy="289.0" r="3.9" fill="#1010ff" fill-opacity="0.9" stroke="#0000c0" stroke-opacity="0.6" stroke-width="0.7"/>
<circle cx="362.4" cy="285.1" r="3.9" fill="#1010ff" fill-opacity="0.9" stroke="#0000c0" stroke-opacity="0.6" stroke-width="0.7"/>
<circle cx="356.5" cy="291.9" r="3.9" fill="#1010ff" fill-opacity="0.9" stroke="#0000c0" stroke-opacity="0.6" stroke-width="0.7"/>
<circle cx="348.7" cy="298.7" r="3.9" fill="#1010ff" fill-opacity="0.9" stroke="#0000c0" stroke-opacity="0.6" stroke-width="0.7"/>
<circle cx="381.9" cy="273.4" r="3.9" fill="#1010ff" fill-opacity="0.9" stroke="#0000c0" stroke-opacity="0.6" stroke-width="0.7"/>
<circle cx="387.7" cy="269.5" r="3.9" fill="#1010ff" fill-opacity="0.9" stroke="#0000c0" stroke-opacity="0.6" stroke-width="0.7"/>
<circle cx="393.6" cy="265.6" r="3.9" fill="#1010ff" fill-opacity="0.9" stroke="#0000c0" stroke-opacity="0.6" stroke-width="0.7"/>
<circle cx="385.8" cy="275.3" r="3.9" fill="#1010ff" fill-opacity="0.9" stroke="#0000c0" stroke-opacity="0.6" stroke-width="0.7"/>
<circle cx="391.6" cy="271.4" r="3.9" fill="#1010ff" fill-opacity="0.9" stroke="#0000c0" stroke-opacity="0.6" stroke-width="0.7"/>
<circle cx="397.5" cy="261.7" r="3.9" fill="#1010ff" fill-opacity="0.9" stroke="#0000c0" stroke-opacity="0.6" stroke-width="0.7"/>
<circle cx="327.3" cy="307.5" r="3.9" fill="#1010ff" fill-opacity="0.9" stroke="#0000c0" stroke-opacity="0.6" stroke-width="0.7"/>
<circle cx="340.0" cy="301.7" r="3.9" fill="#1010ff" fill-opacity="0.9" stroke="#0000c0" stroke-opacity="0.6" stroke-width="0.7"/>
<circle cx="346.8" cy="296.8" r="3.9" fill="#1010ff" fill-opacity="0.9" stroke="#0000c0" stroke-opacity="0.6" stroke-width="0.7"/>
<circle cx="344.0" cy="303.0" r="3.9" fill="#1010ff" fill-opacity="0.9" stroke="#0000c0" stroke-opacity="0.6" stroke-width="0.7"/>
<circle cx="351.0" cy="298.0" r="3.9" fill="#1010ff" fill-opacity="0.9" stroke="#0000c0" stroke-opacity="0.6" stroke-width="0.7"/>
<circle cx="358.0" cy="294.0" r="3.9" fill="#1010ff" fill-opacity="0.9" stroke="#0000c0" stroke-opacity="0.6" stroke-width="0.7"/>
<circle cx="365.0" cy="288.0" r="3.9" fill="#1010ff" fill-opacity="0.9" stroke="#0000c0" stroke-opacity="0.6" stroke-width="0.7"/>
<circle cx="337.0" cy="306.0" r="3.9" fill="#1010ff" fill-opacity="0.9" stroke="#0000c0" stroke-opacity="0.6" stroke-width="0.7"/>
<circle cx="372.0" cy="283.0" r="3.9" fill="#1010ff" fill-opacity="0.9" stroke="#0000c0" stroke-opacity="0.6" stroke-width="0.7"/>
</g>
<g stroke="#000" fill="none"><line x1="91.0" y1="71.5" x2="91.0" y2="494.0" stroke-width="0.5"/><line x1="644.55" y1="71.5" x2="644.55" y2="494.0" stroke-width="0.42"/><line x1="90.7" y1="71.5" x2="644.8" y2="71.5" stroke-width="0.75"/><line x1="90.7" y1="494.2" x2="644.8" y2="494.2" stroke-width="0.5"/>
<line x1="88.00" y1="71.50" x2="91.0" y2="71.50" stroke-width="0.7"/>
<line x1="88.00" y1="148.32" x2="91.0" y2="148.32" stroke-width="0.7"/>
<line x1="88.00" y1="225.14" x2="91.0" y2="225.14" stroke-width="0.7"/>
<line x1="88.00" y1="301.95" x2="91.0" y2="301.95" stroke-width="0.7"/>
<line x1="88.00" y1="378.77" x2="91.0" y2="378.77" stroke-width="0.7"/>
<line x1="88.00" y1="455.59" x2="91.0" y2="455.59" stroke-width="0.7"/>
<line x1="141.32" y1="494.0" x2="141.32" y2="497.20" stroke-width="0.7"/>
<line x1="241.95" y1="494.0" x2="241.95" y2="497.20" stroke-width="0.7"/>
<line x1="342.59" y1="494.0" x2="342.59" y2="497.20" stroke-width="0.7"/>
<line x1="443.23" y1="494.0" x2="443.23" y2="497.20" stroke-width="0.7"/>
<line x1="543.86" y1="494.0" x2="543.86" y2="497.20" stroke-width="0.7"/>
<line x1="644.50" y1="494.0" x2="644.50" y2="497.20" stroke-width="0.7"/>
</g>
<g font-family="DejaVu Sans, sans-serif" font-size="25" fill="#000">
<text x="84.6" y="80.30" text-anchor="end">2</text>
<text x="84.6" y="157.42" text-anchor="end">1</text>
<text x="84.6" y="234.24" text-anchor="end">0</text>
<text x="84.6" y="311.05" text-anchor="end">−1</text>
<text x="84.6" y="387.87" text-anchor="end">−2</text>
<text x="84.6" y="463.99" text-anchor="end">−3</text>
<text x="141.32" y="517.7" text-anchor="middle">−3</text>
<text x="241.95" y="517.7" text-anchor="middle">−2</text>
<text x="342.59" y="517.7" text-anchor="middle">−1</text>
<text x="443.23" y="517.7" text-anchor="middle">0</text>
<text x="543.86" y="517.7" text-anchor="middle">1</text>
<text x="644.50" y="517.7" text-anchor="middle">2</text>
</g>
<rect x="100.8" y="443.4" width="533.8" height="40.1" rx="2.3" ry="2.3" fill="#fff" fill-opacity="0.8" stroke="#cccccc" stroke-width="0.8"/>
<line x1="109.4" y1="462.4" x2="150.6" y2="462.4" stroke="#000" stroke-width="2.8" stroke-dasharray="10.7 5.3"/>
<circle cx="311.2" cy="464.1" r="3.5" fill="#ff0000" stroke="#d00000" stroke-width="0.7"/>
<circle cx="513.0" cy="464.1" r="3.5" fill="#0000ff" stroke="#0000c0" stroke-width="0.7"/>
<g font-family="DejaVu Sans, sans-serif" font-size="20.6" fill="#000"><text x="167.6" y="468.6">span(<tspan font-style="italic">u</tspan>)</text><text x="348.6" y="468.6">Initialized</text><text x="551.2" y="468.6">Trained</text></g>
<g font-family="Liberation Serif, DejaVu Serif, serif" font-size="35" fill="#000">
<text x="-0.2" y="578.9" textLength="99.2" lengthAdjust="spacingAndGlyphs">Figure</text>
<text x="107.0" y="578.9" textLength="30.0" lengthAdjust="spacingAndGlyphs">1:</text>
<text x="153.6" y="578.9" textLength="59.8" lengthAdjust="spacingAndGlyphs">Two</text>
<text x="230.4" y="578.9" textLength="68.4" lengthAdjust="spacingAndGlyphs">layer</text>
<text x="307.6" y="578.9" textLength="83.8" lengthAdjust="spacingAndGlyphs">ReLU</text>
<text x="400.6" y="578.9" textLength="119.2" lengthAdjust="spacingAndGlyphs">network</text>
<text x="525.8" y="578.9" textLength="62.0" lengthAdjust="spacingAndGlyphs">with</text>
<text x="599.4" y="578.9" textLength="27.6" lengthAdjust="spacingAndGlyphs" font-style="italic">m</text>
<text x="640.0" y="584.5" textLength="16.0" lengthAdjust="spacingAndGlyphs">=</text>
<text x="659.4" y="578.9" textLength="64.8" lengthAdjust="spacingAndGlyphs">1000</text>
</g>
</svg>
</body></html>
